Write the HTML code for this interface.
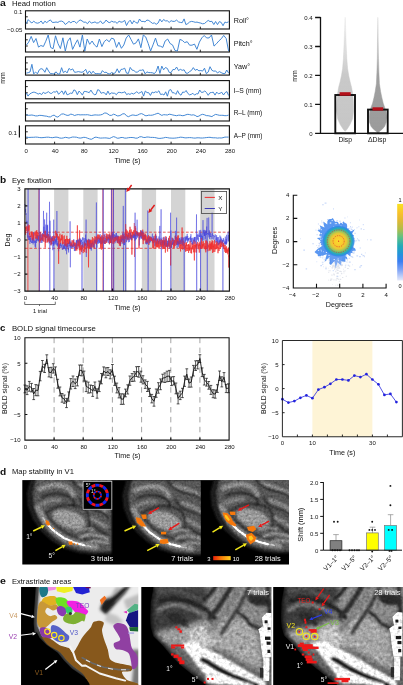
<!DOCTYPE html>
<html lang="en"><head><meta charset="utf-8"><title>Figure</title>
<style>
html,body{margin:0;padding:0;background:#fff;}
body{width:403px;height:685px;overflow:hidden;font-family:'Liberation Sans', sans-serif;}
svg{display:block;position:absolute;left:0;top:0;}
svg text{font-family:"Liberation Sans",sans-serif;}
</style></head><body>
<svg width="403" height="685" viewBox="0 0 403 685">
<rect width="403" height="685" fill="#fff"/>
<g id="panel_a">
<text x="0" y="6.3" font-size="9.4" font-weight="bold" textLength="5.8" lengthAdjust="spacingAndGlyphs" fill="#111">a</text>
<text x="11.9" y="5.9" font-size="7.7" textLength="44" lengthAdjust="spacingAndGlyphs" fill="#111">Head motion</text>
<rect x="25.5" y="10.8" width="203.9" height="18.2" fill="#fff" stroke="#111" stroke-width="1.1"/>
<path d="M54.6 29.0 v-2.3M83.8 29.0 v-2.3M112.9 29.0 v-2.3M142.0 29.0 v-2.3M171.1 29.0 v-2.3M200.3 29.0 v-2.3M25.5 16.8 h2.3M25.5 23.0 h2.3" stroke="#111" stroke-width="0.9" fill="none"/>
<polyline points="26.3,23.6 28.2,19.6 30.0,21.6 31.9,23.0 33.7,21.2 35.6,22.7 37.4,23.2 39.3,22.7 41.1,21.0 43.0,23.8 44.9,21.2 46.7,22.6 48.6,21.1 50.4,19.9 52.3,22.4 54.1,22.4 56.0,22.0 57.9,22.4 59.7,21.3 61.6,21.1 63.4,21.9 65.3,24.5 67.1,23.1 69.0,21.4 70.8,22.8 72.7,21.5 74.6,21.5 76.4,23.2 78.3,21.4 80.1,19.9 82.0,20.9 83.8,22.2 85.7,22.2 87.5,23.7 89.4,21.2 91.3,23.0 93.1,22.6 95.0,21.9 96.8,23.1 98.7,22.7 100.5,21.0 102.4,23.5 104.3,22.7 106.1,20.0 108.0,22.1 109.8,22.6 111.7,21.2 113.5,22.0 115.4,21.9 117.2,23.4 119.1,21.1 121.0,22.2 122.8,21.8 124.7,20.4 126.5,25.5 128.4,22.0 130.2,20.2 132.1,23.9 133.9,20.7 135.8,22.6 137.7,23.2 139.5,19.0 141.4,21.5 143.2,21.4 145.1,21.9 146.9,20.0 148.8,20.5 150.6,21.9 152.5,23.4 154.4,22.9 156.2,24.3 158.1,23.0 159.9,19.2 161.8,21.9 163.6,19.5 165.5,20.9 167.4,20.8 169.2,22.4 171.1,20.7 172.9,21.4 174.8,21.3 176.6,20.1 178.5,21.9 180.3,22.4 182.2,22.7 184.1,18.9 185.9,24.6 187.8,23.6 189.6,22.0 191.5,21.4 193.3,21.7 195.2,22.3 197.0,22.1 198.9,22.7 200.8,23.1 202.6,23.8 204.5,23.5 206.3,21.9 208.2,20.4 210.0,21.6 211.9,21.3 213.8,24.5 215.6,21.5 217.5,24.6 219.3,21.6 221.2,22.4 223.0,25.7 224.9,22.1 226.7,22.6 228.6,21.8" fill="none" stroke="#3a82d2" stroke-width="0.95" stroke-linejoin="round"/>
<text x="233.7" y="23.299999999999997" font-size="7.2" fill="#111">Roll°</text>
<rect x="25.5" y="33.8" width="203.9" height="18.2" fill="#fff" stroke="#111" stroke-width="1.1"/>
<path d="M54.6 52.0 v-2.3M83.8 52.0 v-2.3M112.9 52.0 v-2.3M142.0 52.0 v-2.3M171.1 52.0 v-2.3M200.3 52.0 v-2.3M25.5 39.8 h2.3M25.5 46.0 h2.3" stroke="#111" stroke-width="0.9" fill="none"/>
<polyline points="26.3,45.2 28.7,42.1 31.2,36.4 33.6,42.6 36.0,38.5 38.5,47.1 40.9,45.5 43.4,46.5 45.8,41.2 48.2,35.0 50.7,47.5 53.1,48.7 55.5,35.8 58.0,43.6 60.4,48.6 62.9,37.8 65.3,51.0 67.7,41.2 70.2,37.8 72.6,49.4 75.0,44.3 77.5,39.8 79.9,47.1 82.4,35.0 84.8,51.0 87.2,39.0 89.7,44.3 92.1,41.0 94.5,45.0 97.0,47.1 99.4,39.0 101.9,46.6 104.3,41.5 106.7,39.6 109.2,41.8 111.6,38.1 114.0,39.1 116.5,47.4 118.9,42.2 121.4,48.3 123.8,45.0 126.2,38.0 128.7,35.0 131.1,39.6 133.5,44.2 136.0,42.9 138.4,38.9 140.9,47.7 143.3,35.0 145.7,36.9 148.2,43.5 150.6,51.0 153.0,44.9 155.5,38.1 157.9,45.7 160.4,46.2 162.8,47.4 165.2,40.9 167.7,39.1 170.1,43.5 172.5,44.9 175.0,50.5 177.4,51.0 179.9,39.4 182.3,40.4 184.7,42.6 187.2,41.7 189.6,45.2 192.0,45.2 194.5,44.1 196.9,49.3 199.4,42.1 201.8,37.9 204.2,35.5 206.7,38.0 209.1,37.9 211.5,35.0 214.0,46.1 216.4,43.8 218.9,40.9 221.3,38.7 223.7,35.4 226.2,38.5 228.6,51.0" fill="none" stroke="#3a82d2" stroke-width="0.95" stroke-linejoin="round"/>
<text x="233.7" y="46.3" font-size="7.2" fill="#111">Pitch°</text>
<rect x="25.5" y="56.9" width="203.9" height="18.2" fill="#fff" stroke="#111" stroke-width="1.1"/>
<path d="M54.6 75.1 v-2.3M83.8 75.1 v-2.3M112.9 75.1 v-2.3M142.0 75.1 v-2.3M171.1 75.1 v-2.3M200.3 75.1 v-2.3M25.5 62.9 h2.3M25.5 69.1 h2.3" stroke="#111" stroke-width="0.9" fill="none"/>
<polyline points="26.3,73.1 28.2,72.7 30.0,72.0 31.9,64.3 33.7,73.9 35.6,72.0 37.4,73.8 39.3,69.8 41.1,68.6 43.0,69.4 44.9,72.3 46.7,67.7 48.6,71.1 50.4,73.7 52.3,73.6 54.1,74.1 56.0,71.8 57.9,74.1 59.7,74.0 61.6,67.7 63.4,72.7 65.3,71.1 67.1,72.9 69.0,68.4 70.8,70.0 72.7,68.9 74.6,72.3 76.4,72.1 78.3,71.6 80.1,72.0 82.0,72.3 83.8,71.4 85.7,69.3 87.5,73.8 89.4,70.9 91.3,73.7 93.1,71.2 95.0,73.6 96.8,73.7 98.7,73.6 100.5,74.1 102.4,70.6 104.3,72.5 106.1,72.2 108.0,73.7 109.8,73.9 111.7,72.5 113.5,73.6 115.4,72.7 117.2,68.8 119.1,72.8 121.0,69.4 122.8,69.2 124.7,68.2 126.5,73.1 128.4,73.4 130.2,67.4 132.1,70.1 133.9,70.5 135.8,72.2 137.7,72.1 139.5,70.2 141.4,70.3 143.2,69.7 145.1,73.8 146.9,71.9 148.8,72.6 150.6,72.6 152.5,72.8 154.4,73.6 156.2,71.4 158.1,66.0 159.9,73.4 161.8,66.1 163.6,69.8 165.5,67.5 167.4,68.5 169.2,72.4 171.1,72.5 172.9,69.5 174.8,69.6 176.6,67.0 178.5,70.6 180.3,69.3 182.2,70.3 184.1,69.8 185.9,73.1 187.8,73.2 189.6,71.6 191.5,70.4 193.3,67.6 195.2,70.3 197.0,69.3 198.9,70.8 200.8,70.5 202.6,71.1 204.5,68.2 206.3,73.6 208.2,72.1 210.0,66.7 211.9,70.3 213.8,71.2 215.6,70.9 217.5,73.0 219.3,71.6 221.2,72.6 223.0,73.5 224.9,73.7 226.7,70.0 228.6,73.0" fill="none" stroke="#3a82d2" stroke-width="0.95" stroke-linejoin="round"/>
<text x="233.7" y="69.4" font-size="7.2" fill="#111">Yaw°</text>
<rect x="25.5" y="80.6" width="203.9" height="18.2" fill="#fff" stroke="#111" stroke-width="1.1"/>
<path d="M54.6 98.8 v-2.3M83.8 98.8 v-2.3M112.9 98.8 v-2.3M142.0 98.8 v-2.3M171.1 98.8 v-2.3M200.3 98.8 v-2.3M25.5 86.6 h2.3M25.5 92.8 h2.3" stroke="#111" stroke-width="0.9" fill="none"/>
<polyline points="26.3,93.0 28.0,96.1 29.7,94.0 31.4,93.0 33.1,92.2 34.8,92.3 36.5,93.1 38.2,94.1 39.9,93.3 41.6,94.6 43.3,92.2 45.0,93.5 46.7,92.7 48.4,91.7 50.1,93.2 51.8,93.4 53.5,91.7 55.2,92.2 56.9,90.9 58.6,94.3 60.3,92.4 62.0,90.9 63.7,94.4 65.4,90.8 67.1,94.8 68.8,94.2 70.5,93.1 72.2,93.4 73.9,89.9 75.6,90.7 77.3,94.7 79.0,91.1 80.7,92.7 82.4,95.1 84.1,91.4 85.8,91.5 87.5,92.0 89.2,92.7 90.9,90.1 92.6,92.9 94.3,94.8 96.0,94.4 97.7,89.7 99.4,90.3 101.1,93.3 102.8,92.6 104.5,92.8 106.2,94.9 107.9,91.1 109.6,94.4 111.3,92.9 113.0,93.2 114.7,93.3 116.4,94.7 118.1,92.4 119.8,92.4 121.5,92.8 123.2,92.5 124.9,91.8 126.6,94.6 128.3,93.7 130.0,94.4 131.7,93.2 133.4,94.0 135.1,93.0 136.8,91.7 138.5,93.3 140.2,92.6 141.9,91.5 143.6,96.1 145.3,91.0 147.0,92.6 148.7,92.7 150.4,95.4 152.1,92.1 153.8,92.8 155.5,91.8 157.2,92.4 158.9,90.8 160.6,94.5 162.3,94.1 164.0,95.0 165.7,91.8 167.4,96.2 169.1,90.3 170.8,89.6 172.5,92.9 174.2,92.7 175.9,94.4 177.6,90.7 179.3,94.0 181.0,95.2 182.7,92.0 184.4,92.4 186.1,90.5 187.8,93.4 189.5,94.8 191.2,94.4 192.9,93.3 194.6,95.1 196.3,93.8 198.0,93.9 199.7,90.0 201.4,92.4 203.1,92.2 204.8,90.9 206.5,92.6 208.2,95.3 209.9,92.8 211.6,92.5 213.3,92.2 215.0,95.1 216.7,92.1 218.4,93.8 220.1,93.2 221.8,92.3 223.5,95.0 225.2,92.6 226.9,91.6 228.6,95.5" fill="none" stroke="#3a82d2" stroke-width="0.95" stroke-linejoin="round"/>
<text x="233.7" y="93.1" font-size="7.2" textLength="27.8" lengthAdjust="spacingAndGlyphs" fill="#111">I–S (mm)</text>
<rect x="25.5" y="102.8" width="203.9" height="18.2" fill="#fff" stroke="#111" stroke-width="1.1"/>
<path d="M54.6 121.0 v-2.3M83.8 121.0 v-2.3M112.9 121.0 v-2.3M142.0 121.0 v-2.3M171.1 121.0 v-2.3M200.3 121.0 v-2.3M25.5 108.8 h2.3M25.5 115.0 h2.3" stroke="#111" stroke-width="0.9" fill="none"/>
<polyline points="26.3,114.7 28.2,115.3 30.0,115.2 31.9,115.0 33.7,115.4 35.6,115.9 37.4,115.9 39.3,115.4 41.1,115.4 43.0,115.7 44.9,116.0 46.7,116.2 48.6,116.8 50.4,116.9 52.3,115.7 54.1,115.1 56.0,116.6 57.9,117.1 59.7,115.5 61.6,114.1 63.4,113.9 65.3,114.7 67.1,115.4 69.0,115.2 70.8,114.1 72.7,114.6 74.6,115.5 76.4,114.9 78.3,114.6 80.1,114.9 82.0,114.8 83.8,114.8 85.7,114.8 87.5,114.7 89.4,115.1 91.3,115.5 93.1,115.2 95.0,114.9 96.8,115.0 98.7,115.1 100.5,114.9 102.4,114.4 104.3,113.1 106.1,113.0 108.0,114.1 109.8,115.4 111.7,115.3 113.5,114.2 115.4,114.8 117.2,115.9 119.1,115.8 121.0,115.0 122.8,113.8 124.7,113.8 126.5,115.8 128.4,116.7 130.2,115.8 132.1,115.0 133.9,115.1 135.8,115.5 137.7,115.1 139.5,114.1 141.4,113.6 143.2,114.3 145.1,115.6 146.9,115.7 148.8,115.1 150.6,115.3 152.5,115.1 154.4,114.5 156.2,113.8 158.1,113.2 159.9,114.3 161.8,115.4 163.6,114.7 165.5,114.8 167.4,115.0 169.2,114.2 171.1,114.5 172.9,115.0 174.8,115.4 176.6,115.7 178.5,115.2 180.3,115.2 182.2,115.7 184.1,115.5 185.9,114.8 187.8,114.3 189.6,114.6 191.5,115.1 193.3,114.8 195.2,115.4 197.0,116.6 198.9,116.1 200.8,114.9 202.6,114.3 204.5,114.8 206.3,115.6 208.2,115.7 210.0,116.1 211.9,116.6 213.8,115.3 215.6,114.4 217.5,114.8 219.3,115.3 221.2,115.3 223.0,115.3 224.9,115.7 226.7,115.6 228.6,115.1" fill="none" stroke="#3a82d2" stroke-width="0.95" stroke-linejoin="round"/>
<text x="233.7" y="115.3" font-size="7.2" textLength="28.6" lengthAdjust="spacingAndGlyphs" fill="#111">R–L (mm)</text>
<rect x="25.5" y="125.8" width="203.9" height="18.2" fill="#fff" stroke="#111" stroke-width="1.1"/>
<path d="M54.6 144.0 v-2.3M83.8 144.0 v-2.3M112.9 144.0 v-2.3M142.0 144.0 v-2.3M171.1 144.0 v-2.3M200.3 144.0 v-2.3M25.5 131.8 h2.3M25.5 138.0 h2.3" stroke="#111" stroke-width="0.9" fill="none"/>
<polyline points="26.3,136.9 28.2,137.4 30.0,137.4 31.9,137.3 33.7,137.3 35.6,137.1 37.4,137.2 39.3,137.5 41.1,137.7 43.0,137.6 44.9,137.4 46.7,137.2 48.6,137.2 50.4,137.5 52.3,137.7 54.1,137.4 56.0,137.1 57.9,137.4 59.7,138.0 61.6,138.2 63.4,137.9 65.3,137.3 67.1,137.6 69.0,138.1 70.8,137.5 72.7,137.0 74.6,137.1 76.4,137.2 78.3,137.8 80.1,138.1 82.0,137.8 83.8,137.3 85.7,137.5 87.5,138.2 89.4,138.9 91.3,139.3 93.1,138.4 95.0,137.2 96.8,137.3 98.7,137.8 100.5,138.1 102.4,138.0 104.3,137.9 106.1,137.9 108.0,138.2 109.8,138.4 111.7,137.4 113.5,136.6 115.4,137.2 117.2,138.2 119.1,138.1 121.0,137.5 122.8,137.5 124.7,138.1 126.5,138.1 128.4,137.7 130.2,137.5 132.1,137.5 133.9,137.7 135.8,138.2 137.7,138.0 139.5,136.9 141.4,136.7 143.2,137.4 145.1,137.5 146.9,137.0 148.8,137.1 150.6,137.4 152.5,137.4 154.4,137.5 156.2,137.8 158.1,138.3 159.9,138.4 161.8,138.2 163.6,137.9 165.5,137.4 167.4,137.6 169.2,138.0 171.1,138.1 172.9,138.2 174.8,138.1 176.6,137.9 178.5,137.6 180.3,137.2 182.2,137.3 184.1,137.7 185.9,137.9 187.8,137.7 189.6,137.6 191.5,137.7 193.3,138.0 195.2,138.1 197.0,137.8 198.9,137.8 200.8,138.0 202.6,138.0 204.5,137.8 206.3,137.6 208.2,137.4 210.0,137.3 211.9,137.7 213.8,137.8 215.6,137.8 217.5,138.1 219.3,137.9 221.2,138.0 223.0,137.7 224.9,137.1 226.7,137.1 228.6,137.1" fill="none" stroke="#3a82d2" stroke-width="0.95" stroke-linejoin="round"/>
<text x="233.7" y="138.3" font-size="7.2" textLength="28.8" lengthAdjust="spacingAndGlyphs" fill="#111">A–P (mm)</text>
<text x="22.3" y="14.2" font-size="6.05" text-anchor="end" fill="#111">0.1</text>
<text x="22.3" y="32.0" font-size="6.05" text-anchor="end" fill="#111">−0.05</text>
<text x="0" y="0" font-size="7" text-anchor="middle" transform="translate(5.0 77.9) rotate(-90)" fill="#111">mm</text>
<path d="M19.4 125.6V137.6" stroke="#111" stroke-width="1.2"/>
<text x="16.8" y="134.6" font-size="6.05" text-anchor="end" fill="#111">0.1</text>
<text x="26.1" y="152.6" font-size="6.05" text-anchor="middle" fill="#111">0</text>
<text x="55.228571428571435" y="152.6" font-size="6.05" text-anchor="middle" fill="#111">40</text>
<text x="84.35714285714286" y="152.6" font-size="6.05" text-anchor="middle" fill="#111">80</text>
<text x="113.48571428571428" y="152.6" font-size="6.05" text-anchor="middle" fill="#111">120</text>
<text x="142.61428571428573" y="152.6" font-size="6.05" text-anchor="middle" fill="#111">160</text>
<text x="171.74285714285713" y="152.6" font-size="6.05" text-anchor="middle" fill="#111">200</text>
<text x="200.87142857142857" y="152.6" font-size="6.05" text-anchor="middle" fill="#111">240</text>
<text x="230.0" y="152.6" font-size="6.05" text-anchor="middle" fill="#111">280</text>
<text x="127.5" y="162.6" font-size="7.2" text-anchor="middle" textLength="26" lengthAdjust="spacingAndGlyphs" fill="#111">Time (s)</text>
</g>
<g id="panel_a2">
<filter id="blur03" x="-20%" y="-5%" width="140%" height="110%"><feGaussianBlur stdDeviation="0.35"/></filter>
<linearGradient id="gv1" x1="0" y1="17.5" x2="0" y2="133.3" gradientUnits="userSpaceOnUse"><stop offset="0" stop-color="#c6c6c6" stop-opacity="0.25"/><stop offset="0.3" stop-color="#c6c6c6" stop-opacity="0.6"/><stop offset="0.5" stop-color="#c6c6c6" stop-opacity="0.95"/><stop offset="1" stop-color="#c6c6c6" stop-opacity="1"/></linearGradient><path d="M344.9 17.5 L344.6 29.7 L344.0 45.0 L343.4 58.6 L342.6 68.5 L341.4 76.0 L340.1 81.8 L338.6 87.6 L337.6 93.6 L336.9 101.5 L336.6 111.0 L337.6 118.8 L340.2 124.6 L343.2 129.2 L345.0 131.3 L345.2 131.3 L347.1 129.2 L350.0 124.6 L352.6 118.8 L353.6 111.0 L353.4 101.5 L352.6 93.6 L351.6 87.6 L350.1 81.8 L348.8 76.0 L347.6 68.5 L346.8 58.6 L346.2 45.0 L345.7 29.7 L345.4 17.5Z" fill="url(#gv1)" stroke="url(#gv1)" stroke-width="0.5" filter="url(#blur03)"/>
<linearGradient id="gv2" x1="0" y1="17.5" x2="0" y2="133.3" gradientUnits="userSpaceOnUse"><stop offset="0" stop-color="#9b9b9b" stop-opacity="0.25"/><stop offset="0.3" stop-color="#9b9b9b" stop-opacity="0.6"/><stop offset="0.5" stop-color="#9b9b9b" stop-opacity="0.95"/><stop offset="1" stop-color="#9b9b9b" stop-opacity="1"/></linearGradient><path d="M377.8 17.5 L377.5 39.2 L377.3 58.6 L376.9 72.5 L376.4 83.8 L375.2 91.6 L374.0 97.4 L372.6 103.2 L371.1 107.2 L369.8 111.0 L369.2 116.8 L369.6 122.6 L371.1 126.4 L373.5 129.2 L376.9 131.9 L377.8 132.7 L378.0 132.7 L378.9 131.9 L382.2 129.2 L384.6 126.4 L386.1 122.6 L386.6 116.8 L386.0 111.0 L384.6 107.2 L383.2 103.2 L381.8 97.4 L380.6 91.6 L379.4 83.8 L378.9 72.5 L378.5 58.6 L378.2 39.2 L378.0 17.5Z" fill="url(#gv2)" stroke="url(#gv2)" stroke-width="0.5" filter="url(#blur03)"/>
<rect x="335.3" y="95" width="19.7" height="38.3" fill="none" stroke="#111" stroke-width="1.9"/>
<rect x="368" y="109.6" width="19.7" height="23.7" fill="none" stroke="#111" stroke-width="1.9"/>
<rect x="339.6" y="92.2" width="11.1" height="3.5" fill="#b4101a"/>
<rect x="372.5" y="107.3" width="10.7" height="3.3" fill="#b4101a"/>
<path d="M320.5 17.0V133.3H403M320.5 133.3h-5.4M320.5 104.4h-5.4M320.5 75.4h-5.4M320.5 46.5h-5.4M320.5 17.5h-5.4" stroke="#111" stroke-width="1.3" fill="none"/>
<text x="312.6" y="135.60000000000002" font-size="6.05" text-anchor="end" fill="#111">0</text>
<text x="312.6" y="106.65" font-size="6.05" text-anchor="end" fill="#111">0.1</text>
<text x="312.6" y="77.7" font-size="6.05" text-anchor="end" fill="#111">0.2</text>
<text x="312.6" y="48.75" font-size="6.05" text-anchor="end" fill="#111">0.3</text>
<text x="312.6" y="19.8" font-size="6.05" text-anchor="end" fill="#111">0.4</text>
<text x="345.2" y="142.0" font-size="6.8" text-anchor="middle" fill="#111">Disp</text>
<text x="377.2" y="142.0" font-size="6.8" text-anchor="middle" textLength="18.4" lengthAdjust="spacingAndGlyphs" fill="#111">ΔDisp</text>
<text x="0" y="0" font-size="7" text-anchor="middle" transform="translate(297 76) rotate(-90)" fill="#111">mm</text>
</g>
<g id="panel_b">
<text x="0" y="183.2" font-size="9.4" font-weight="bold" textLength="6.2" lengthAdjust="spacingAndGlyphs" fill="#111">b</text>
<text x="11.9" y="182.9" font-size="7.7" textLength="39.5" lengthAdjust="spacingAndGlyphs" fill="#111">Eye fixation</text>
<rect x="24.9" y="188.9" width="204.5" height="102.2" fill="#fff"/>
<rect x="24.9" y="188.9" width="14.3" height="102.2" fill="#d4d4d4"/>
<rect x="54.1" y="188.9" width="14.3" height="102.2" fill="#d4d4d4"/>
<rect x="83.3" y="188.9" width="14.3" height="102.2" fill="#d4d4d4"/>
<rect x="112.5" y="188.9" width="14.3" height="102.2" fill="#d4d4d4"/>
<rect x="141.8" y="188.9" width="14.3" height="102.2" fill="#d4d4d4"/>
<rect x="171.0" y="188.9" width="14.3" height="102.2" fill="#d4d4d4"/>
<rect x="200.2" y="188.9" width="14.3" height="102.2" fill="#d4d4d4"/>
<path d="M24.9 232.2H229.4M24.9 248.3H229.4" stroke="#e03030" stroke-width="0.8" stroke-dasharray="2.8 1.8" fill="none"/>
<polyline points="24.9,221.6 25.1,227.7 25.3,228.4 25.5,234.8 25.6,227.3 25.8,228.3 26.0,229.0 26.2,226.7 26.4,226.5 26.6,231.0 26.8,230.6 26.9,229.5 27.1,226.3 27.3,226.8 27.5,232.3 27.7,231.9 27.9,291.1 28.1,224.4 28.2,226.4 28.4,231.2 28.6,226.1 28.8,230.3 29.0,227.5 29.2,225.2 29.4,233.1 29.6,234.9 29.7,233.1 29.9,237.2 30.1,236.0 30.3,237.2 30.5,236.1 30.7,236.9 30.9,236.1 31.0,236.7 31.2,232.6 31.4,235.4 31.6,234.8 31.8,231.6 32.0,240.1 32.2,231.9 32.3,236.4 32.5,239.3 32.7,236.2 32.9,235.5 33.1,232.7 33.3,238.9 33.5,235.2 33.6,235.5 33.8,240.7 34.0,239.3 34.2,234.1 34.4,233.9 34.6,232.8 34.8,234.4 34.9,234.8 35.1,235.6 35.3,232.5 35.5,238.5 35.7,236.5 35.9,235.0 36.1,230.9 36.3,232.4 36.4,238.5 36.6,236.5 36.8,230.1 37.0,238.8 37.2,238.0 37.4,232.0 37.6,239.7 37.7,237.8 37.9,235.1 38.1,235.4 38.3,235.0 38.5,235.7 38.7,232.9 38.9,233.9 39.0,188.9 39.2,291.1 39.4,239.1 39.6,242.6 39.8,235.2 40.0,242.6 40.2,234.8 40.3,232.1 40.5,240.6 40.7,239.6 40.9,238.9 41.1,240.5 41.3,240.0 41.5,237.8 41.6,239.0 41.8,238.1 42.0,233.6 42.2,240.1 42.4,237.1 42.6,236.5 42.8,234.8 42.9,240.9 43.1,234.0 43.3,235.9 43.5,234.6 43.7,236.9 43.9,241.8 44.1,238.9 44.3,234.7 44.4,236.9 44.6,237.1 44.8,231.8 45.0,230.5 45.2,247.6 45.4,231.3 45.6,242.6 45.7,242.7 45.9,234.3 46.1,237.8 46.3,235.6 46.5,236.0 46.7,238.0 46.9,235.9 47.0,237.6 47.2,242.6 47.4,237.7 47.6,237.1 47.8,233.3 48.0,242.0 48.2,238.8 48.3,240.2 48.5,239.5 48.7,234.4 48.9,238.3 49.1,240.8 49.3,239.2 49.5,237.5 49.6,242.8 49.8,240.8 50.0,235.7 50.2,237.8 50.4,240.5 50.6,241.9 50.8,241.1 51.0,245.3 51.1,238.2 51.3,239.7 51.5,240.1 51.7,244.0 51.9,242.1 52.1,238.3 52.3,238.9 52.4,240.8 52.6,237.7 52.8,236.2 53.0,240.7 53.2,240.1 53.4,240.8 53.6,241.4 53.7,235.6 53.9,236.2 54.1,236.4 54.3,240.7 54.5,237.0 54.7,237.1 54.9,237.9 55.0,236.2 55.2,238.4 55.4,234.3 55.6,230.8 55.8,231.4 56.0,231.0 56.2,235.3 56.3,232.7 56.5,236.6 56.7,232.9 56.9,236.8 57.1,237.3 57.3,237.9 57.5,234.2 57.6,235.5 57.8,235.9 58.0,239.9 58.2,236.3 58.4,241.1 58.6,263.8 58.8,237.6 59.0,236.8 59.1,249.0 59.3,242.2 59.5,241.7 59.7,238.0 59.9,233.7 60.1,241.4 60.3,240.4 60.4,238.6 60.6,243.5 60.8,243.7 61.0,240.1 61.2,239.2 61.4,240.3 61.6,234.9 61.7,239.9 61.9,238.4 62.1,234.9 62.3,234.6 62.5,244.2 62.7,240.7 62.9,236.3 63.0,243.7 63.2,242.4 63.4,243.5 63.6,243.7 63.8,243.1 64.0,239.3 64.2,236.2 64.3,235.5 64.5,239.9 64.7,245.7 64.9,240.2 65.1,241.1 65.3,239.1 65.5,240.5 65.7,245.4 65.8,239.0 66.0,246.2 66.2,242.3 66.4,239.4 66.6,239.3 66.8,235.8 67.0,247.3 67.1,239.6 67.3,238.7 67.5,241.7 67.7,239.1 67.9,244.2 68.1,239.2 68.3,239.7 68.4,244.2 68.6,243.4 68.8,242.2 69.0,243.7 69.2,239.0 69.4,241.7 69.6,238.5 69.7,239.1 69.9,242.5 70.1,243.4 70.3,245.8 70.5,245.6 70.7,245.7 70.9,242.6 71.0,246.3 71.2,243.7 71.4,243.6 71.6,245.8 71.8,245.0 72.0,240.5 72.2,240.2 72.3,247.2 72.5,245.5 72.7,246.1 72.9,245.9 73.1,240.7 73.3,243.2 73.5,241.7 73.7,240.2 73.8,246.7 74.0,246.1 74.2,245.5 74.4,242.7 74.6,246.0 74.8,243.9 75.0,242.5 75.1,242.6 75.3,244.7 75.5,248.3 75.7,250.6 75.9,243.0 76.1,244.9 76.3,248.8 76.4,247.4 76.6,247.1 76.8,250.5 77.0,244.8 77.2,247.6 77.4,225.4 77.6,243.2 77.7,245.7 77.9,244.0 78.1,244.4 78.3,245.7 78.5,245.7 78.7,240.6 78.9,246.6 79.0,241.5 79.2,248.9 79.4,250.2 79.6,230.3 79.8,248.7 80.0,254.4 80.2,242.2 80.4,250.3 80.5,249.8 80.7,246.8 80.9,247.1 81.1,246.5 81.3,248.2 81.5,251.9 81.7,245.1 81.8,250.4 82.0,247.2 82.2,246.3 82.4,244.7 82.6,248.8 82.8,248.9 83.0,248.6 83.1,253.1 83.3,249.8 83.5,250.4 83.7,250.7 83.9,246.7 84.1,248.0 84.3,242.3 84.4,242.5 84.6,252.1 84.8,246.2 85.0,249.3 85.2,244.7 85.4,245.7 85.6,243.4 85.7,245.0 85.9,243.6 86.1,246.5 86.3,252.8 86.5,248.8 86.7,247.8 86.9,246.6 87.1,248.0 87.2,240.2 87.4,245.3 87.6,240.9 87.8,245.5 88.0,239.7 88.2,247.9 88.4,242.6 88.5,267.3 88.7,243.0 88.9,239.7 89.1,249.0 89.3,246.7 89.5,243.4 89.7,244.6 89.8,248.0 90.0,240.7 90.2,243.8 90.4,240.2 90.6,243.0 90.8,247.2 91.0,245.1 91.1,239.7 91.3,247.6 91.5,244.8 91.7,241.7 91.9,240.4 92.1,240.8 92.3,247.4 92.4,237.0 92.6,243.5 92.8,242.9 93.0,242.8 93.2,243.4 93.4,245.3 93.6,243.3 93.7,238.4 93.9,246.0 94.1,248.9 94.3,240.2 94.5,240.6 94.7,239.3 94.9,236.2 95.1,243.2 95.2,240.4 95.4,239.3 95.6,237.0 95.8,237.5 96.0,242.7 96.2,244.1 96.4,240.8 96.5,244.5 96.7,236.4 96.9,240.6 97.1,240.4 97.3,241.7 97.5,234.6 97.7,238.0 97.8,239.9 98.0,236.8 98.2,238.6 98.4,236.6 98.6,234.5 98.8,239.1 99.0,236.9 99.1,237.0 99.3,235.1 99.5,236.7 99.7,238.3 99.9,240.3 100.1,237.6 100.3,241.5 100.4,236.6 100.6,247.8 100.8,237.0 101.0,240.1 101.2,240.9 101.4,249.6 101.6,235.4 101.8,239.3 101.9,239.4 102.1,243.9 102.3,238.9 102.5,248.8 102.7,234.8 102.9,188.9 103.1,291.1 103.2,243.0 103.4,242.0 103.6,237.1 103.8,239.3 104.0,237.3 104.2,234.8 104.4,236.4 104.5,243.7 104.7,240.9 104.9,241.2 105.1,240.4 105.3,243.7 105.5,243.6 105.7,239.8 105.8,239.4 106.0,236.2 106.2,238.6 106.4,233.6 106.6,243.0 106.8,241.7 107.0,237.0 107.1,238.5 107.3,240.5 107.5,235.4 107.7,234.5 107.9,233.9 108.1,238.8 108.3,237.7 108.4,237.0 108.6,237.5 108.8,234.7 109.0,239.2 109.2,236.8 109.4,244.3 109.6,235.8 109.8,233.3 109.9,238.2 110.1,235.2 110.3,243.1 110.5,239.3 110.7,242.9 110.9,237.6 111.1,237.1 111.2,242.7 111.4,188.9 111.6,291.1 111.8,231.9 112.0,239.2 112.2,238.7 112.4,238.1 112.5,238.4 112.7,243.6 112.9,243.2 113.1,188.9 113.3,291.1 113.5,238.9 113.7,240.8 113.8,243.7 114.0,240.0 114.2,239.8 114.4,241.7 114.6,237.3 114.8,241.5 115.0,240.3 115.1,237.4 115.3,239.2 115.5,236.6 115.7,240.5 115.9,241.1 116.1,238.5 116.3,239.2 116.5,236.4 116.6,238.7 116.8,239.9 117.0,238.5 117.2,237.9 117.4,243.1 117.6,240.2 117.8,240.8 117.9,236.3 118.1,241.2 118.3,236.7 118.5,243.5 118.7,240.0 118.9,236.7 119.1,240.6 119.2,236.5 119.4,245.7 119.6,242.3 119.8,239.4 120.0,240.1 120.2,244.0 120.4,237.6 120.5,246.1 120.7,236.5 120.9,238.2 121.1,235.0 121.3,239.6 121.5,241.9 121.7,240.0 121.8,239.8 122.0,236.5 122.2,239.0 122.4,236.8 122.6,236.5 122.8,233.6 123.0,243.4 123.1,238.6 123.3,235.3 123.5,235.2 123.7,238.7 123.9,237.7 124.1,237.0 124.3,236.3 124.5,238.1 124.6,242.7 124.8,239.6 125.0,237.5 125.2,232.3 125.4,239.1 125.6,224.1 125.8,230.6 125.9,235.6 126.1,229.4 126.3,236.6 126.5,234.0 126.7,236.2 126.9,239.6 127.1,240.3 127.2,230.6 127.4,237.8 127.6,234.8 127.8,239.1 128.0,238.8 128.2,235.0 128.4,236.9 128.5,234.8 128.7,232.8 128.9,240.0 129.1,238.6 129.3,236.5 129.5,230.0 129.7,237.7 129.8,238.1 130.0,226.8 130.2,230.4 130.4,238.0 130.6,237.1 130.8,235.9 131.0,233.7 131.2,229.5 131.3,239.3 131.5,240.3 131.7,234.9 131.9,254.6 132.1,241.6 132.3,236.7 132.5,232.1 132.6,236.2 132.8,233.2 133.0,233.9 133.2,232.4 133.4,232.9 133.6,233.3 133.8,230.3 133.9,235.4 134.1,233.3 134.3,223.0 134.5,257.0 134.7,234.4 134.9,235.4 135.1,235.9 135.2,226.0 135.4,231.9 135.6,227.9 135.8,231.3 136.0,233.2 136.2,234.3 136.4,232.8 136.5,233.7 136.7,231.0 136.9,236.2 137.1,233.3 137.3,232.5 137.5,234.6 137.7,234.6 137.8,232.4 138.0,232.4 138.2,234.4 138.4,234.2 138.6,235.8 138.8,232.7 139.0,248.5 139.2,238.9 139.3,235.4 139.5,232.7 139.7,233.8 139.9,237.2 140.1,232.6 140.3,233.0 140.5,233.1 140.6,230.5 140.8,235.9 141.0,233.3 141.2,235.9 141.4,232.3 141.6,231.9 141.8,233.9 141.9,233.3 142.1,237.9 142.3,233.9 142.5,239.3 142.7,229.7 142.9,232.8 143.1,240.7 143.2,244.1 143.4,232.8 143.6,239.2 143.8,235.2 144.0,240.7 144.2,236.9 144.4,239.1 144.5,235.6 144.7,238.5 144.9,233.3 145.1,239.9 145.3,234.2 145.5,238.1 145.7,236.6 145.9,242.8 146.0,243.4 146.2,235.4 146.4,242.0 146.6,239.6 146.8,239.6 147.0,241.4 147.2,238.3 147.3,243.0 147.5,242.5 147.7,236.5 147.9,241.5 148.1,237.2 148.3,239.4 148.5,235.1 148.6,238.3 148.8,245.0 149.0,241.6 149.2,241.0 149.4,236.3 149.6,238.9 149.8,241.3 149.9,238.6 150.1,241.0 150.3,238.4 150.5,239.5 150.7,236.8 150.9,239.1 151.1,237.3 151.2,240.4 151.4,238.4 151.6,241.0 151.8,238.8 152.0,240.2 152.2,241.3 152.4,242.3 152.5,242.0 152.7,239.9 152.9,248.1 153.1,237.9 153.3,248.5 153.5,242.3 153.7,242.9 153.9,239.9 154.0,241.5 154.2,242.4 154.4,242.1 154.6,239.8 154.8,235.8 155.0,241.6 155.2,248.8 155.3,244.2 155.5,241.9 155.7,233.6 155.9,245.6 156.1,244.5 156.3,241.8 156.5,242.5 156.6,247.3 156.8,240.7 157.0,247.2 157.2,244.2 157.4,239.6 157.6,247.2 157.8,244.4 157.9,238.5 158.1,244.1 158.3,246.4 158.5,245.1 158.7,240.9 158.9,247.9 159.1,245.2 159.2,247.6 159.4,246.7 159.6,239.6 159.8,243.6 160.0,244.6 160.2,242.1 160.4,245.4 160.6,246.8 160.7,240.0 160.9,240.8 161.1,245.8 161.3,241.3 161.5,239.1 161.7,242.0 161.9,242.0 162.0,247.2 162.2,244.0 162.4,249.1 162.6,240.5 162.8,244.3 163.0,240.0 163.2,246.2 163.3,241.4 163.5,248.7 163.7,237.3 163.9,242.5 164.1,243.0 164.3,244.3 164.5,248.9 164.6,240.2 164.8,242.1 165.0,240.7 165.2,240.8 165.4,252.6 165.6,242.9 165.8,236.3 165.9,246.5 166.1,242.9 166.3,245.7 166.5,238.9 166.7,243.4 166.9,246.9 167.1,245.6 167.2,247.8 167.4,250.3 167.6,251.5 167.8,245.6 168.0,246.7 168.2,242.9 168.4,245.7 168.6,242.5 168.7,237.9 168.9,246.5 169.1,246.5 169.3,240.0 169.5,235.9 169.7,245.3 169.9,247.6 170.0,243.4 170.2,243.7 170.4,240.4 170.6,265.4 170.8,243.1 171.0,243.1 171.2,246.8 171.3,246.8 171.5,240.9 171.7,240.7 171.9,244.6 172.1,237.7 172.3,239.5 172.5,240.9 172.6,240.5 172.8,241.3 173.0,240.2 173.2,239.8 173.4,242.1 173.6,248.3 173.8,242.8 173.9,244.8 174.1,245.8 174.3,240.6 174.5,247.6 174.7,239.9 174.9,244.2 175.1,246.0 175.3,244.9 175.4,235.5 175.6,238.0 175.8,243.2 176.0,239.2 176.2,237.1 176.4,245.0 176.6,243.2 176.7,239.7 176.9,241.2 177.1,243.6 177.3,237.8 177.5,241.2 177.7,240.5 177.9,235.8 178.0,241.5 178.2,235.3 178.4,242.3 178.6,243.8 178.8,243.0 179.0,240.9 179.2,241.7 179.3,242.6 179.5,248.2 179.7,247.1 179.9,244.8 180.1,242.0 180.3,240.0 180.5,251.4 180.6,244.9 180.8,245.9 181.0,245.0 181.2,244.1 181.4,247.4 181.6,248.9 181.8,242.1 182.0,242.9 182.1,227.5 182.3,245.7 182.5,247.4 182.7,249.6 182.9,243.5 183.1,247.4 183.3,248.8 183.4,247.3 183.6,240.7 183.8,244.3 184.0,244.9 184.2,245.4 184.4,243.1 184.6,243.5 184.7,249.6 184.9,246.5 185.1,247.7 185.3,245.2 185.5,246.0 185.7,251.8 185.9,242.5 186.0,245.1 186.2,251.0 186.4,242.5 186.6,245.6 186.8,244.5 187.0,245.9 187.2,245.5 187.3,247.5 187.5,250.9 187.7,247.9 187.9,245.5 188.1,246.0 188.3,244.2 188.5,246.5 188.6,252.9 188.8,244.1 189.0,248.7 189.2,250.3 189.4,247.4 189.6,250.5 189.8,245.4 190.0,249.3 190.1,240.8 190.3,247.4 190.5,248.3 190.7,248.6 190.9,253.1 191.1,249.3 191.3,249.0 191.4,247.8 191.6,253.4 191.8,246.8 192.0,243.2 192.2,248.2 192.4,247.2 192.6,245.8 192.7,249.4 192.9,248.4 193.1,244.3 193.3,246.5 193.5,250.6 193.7,252.3 193.9,240.2 194.0,245.6 194.2,251.6 194.4,260.4 194.6,244.9 194.8,246.5 195.0,252.4 195.2,241.5 195.3,245.0 195.5,247.4 195.7,244.8 195.9,247.4 196.1,247.7 196.3,244.1 196.5,252.5 196.7,243.7 196.8,245.5 197.0,244.4 197.2,243.9 197.4,242.0 197.6,242.3 197.8,243.9 198.0,247.7 198.1,244.4 198.3,247.9 198.5,249.2 198.7,245.0 198.9,245.3 199.1,242.8 199.3,252.6 199.4,244.5 199.6,244.2 199.8,245.8 200.0,241.7 200.2,248.7 200.4,245.1 200.6,247.2 200.7,246.1 200.9,249.0 201.1,246.5 201.3,244.2 201.5,238.0 201.7,245.1 201.9,248.4 202.0,241.5 202.2,248.2 202.4,246.1 202.6,244.5 202.8,246.8 203.0,244.0 203.2,245.7 203.3,241.2 203.5,244.6 203.7,245.1 203.9,248.6 204.1,244.8 204.3,243.2 204.5,245.0 204.7,248.9 204.8,247.8 205.0,246.8 205.2,246.1 205.4,250.2 205.6,240.6 205.8,252.3 206.0,245.8 206.1,247.4 206.3,246.2 206.5,240.5 206.7,248.9 206.9,247.6 207.1,249.1 207.3,247.7 207.4,241.6 207.6,247.9 207.8,247.3 208.0,251.2 208.2,246.9 208.4,245.2 208.6,247.3 208.7,247.0 208.9,243.6 209.1,244.4 209.3,246.3 209.5,248.3 209.7,250.4 209.9,241.1 210.0,250.6 210.2,244.2 210.4,246.7 210.6,248.3 210.8,243.6 211.0,248.4 211.2,242.6 211.4,249.3 211.5,244.9 211.7,242.6 211.9,249.2 212.1,240.3 212.3,244.0 212.5,252.9 212.7,242.5 212.8,241.0 213.0,247.3 213.2,247.2 213.4,245.6 213.6,252.2 213.8,246.2 214.0,243.8 214.1,248.1 214.3,243.1 214.5,239.9 214.7,251.9 214.9,251.4 215.1,248.2 215.3,244.3 215.4,245.0 215.6,248.8 215.8,249.4 216.0,248.2 216.2,241.1 216.4,248.8 216.6,247.7 216.7,243.2 216.9,246.7 217.1,248.8 217.3,241.7 217.5,244.9 217.7,247.8 217.9,246.9 218.0,253.2 218.2,246.8 218.4,245.0 218.6,243.1 218.8,242.8 219.0,251.0 219.2,247.0 219.4,246.6 219.5,245.3 219.7,243.3 219.9,242.1 220.1,246.8 220.3,248.7 220.5,244.8 220.7,247.1 220.8,240.3 221.0,244.3 221.2,245.1 221.4,242.4 221.6,247.1 221.8,246.2 222.0,245.7 222.1,243.3 222.3,241.6 222.5,243.2 222.7,243.4 222.9,246.4 223.1,244.8 223.3,246.7 223.4,242.9 223.6,248.2 223.8,246.7 224.0,246.0 224.2,244.6 224.4,249.2 224.6,248.0 224.7,250.0 224.9,251.8 225.1,245.0 225.3,247.1 225.5,253.0 225.7,251.8 225.9,247.6 226.1,251.2 226.2,252.8 226.4,246.4 226.6,251.7 226.8,251.6 227.0,249.1 227.2,253.1 227.4,251.2 227.5,251.1 227.7,249.7 227.9,254.3 228.1,249.2 228.3,251.6 228.5,247.7 228.7,252.5 228.8,267.5 229.0,255.2 229.2,257.2 229.4,254.2" fill="none" stroke="#f03030" stroke-width="0.55" stroke-linejoin="round" opacity="0.85"/>
<polyline points="24.9,204.9 25.1,204.1 25.3,208.1 25.5,212.4 25.6,209.1 25.8,214.9 26.0,214.8 26.2,213.3 26.4,215.6 26.6,222.9 26.8,223.0 26.9,220.8 27.1,223.6 27.3,226.6 27.5,227.5 27.7,237.6 27.9,234.3 28.1,188.9 28.2,238.9 28.4,240.0 28.6,237.7 28.8,235.8 29.0,236.8 29.2,238.2 29.4,240.0 29.6,235.5 29.7,238.3 29.9,243.9 30.1,239.2 30.3,237.8 30.5,241.9 30.7,238.8 30.9,235.4 31.0,240.4 31.2,240.0 31.4,240.1 31.6,242.8 31.8,241.5 32.0,243.1 32.2,241.3 32.3,242.8 32.5,238.0 32.7,241.1 32.9,238.5 33.1,244.4 33.3,241.0 33.5,239.5 33.6,232.0 33.8,242.9 34.0,241.6 34.2,241.1 34.4,242.4 34.6,242.7 34.8,240.2 34.9,245.0 35.1,246.8 35.3,243.2 35.5,241.0 35.7,247.8 35.9,237.6 36.1,240.9 36.3,239.3 36.4,243.0 36.6,240.6 36.8,235.3 37.0,235.0 37.2,238.2 37.4,240.4 37.6,239.8 37.7,235.6 37.9,241.0 38.1,241.4 38.3,239.0 38.5,236.0 38.7,241.2 38.9,237.1 39.0,235.8 39.2,188.9 39.4,291.1 39.6,234.7 39.8,235.4 40.0,240.7 40.2,232.0 40.3,234.9 40.5,235.1 40.7,236.8 40.9,236.7 41.1,242.9 41.3,236.7 41.5,234.5 41.6,234.6 41.8,238.2 42.0,242.9 42.2,239.6 42.4,237.5 42.6,233.2 42.8,241.2 42.9,236.8 43.1,235.3 43.3,235.3 43.5,210.9 43.7,233.4 43.9,226.7 44.1,237.0 44.3,235.9 44.4,231.8 44.6,219.4 44.8,233.5 45.0,237.9 45.2,237.8 45.4,239.8 45.6,234.4 45.7,242.5 45.9,224.6 46.1,236.7 46.3,237.8 46.5,221.4 46.7,212.7 46.9,233.4 47.0,238.1 47.2,225.5 47.4,236.9 47.6,224.8 47.8,234.0 48.0,240.6 48.2,235.0 48.3,234.3 48.5,235.6 48.7,238.0 48.9,240.4 49.1,243.4 49.3,237.3 49.5,201.8 49.6,214.4 49.8,291.1 50.0,220.7 50.2,232.1 50.4,238.5 50.6,240.7 50.8,240.4 51.0,245.2 51.1,242.1 51.3,240.7 51.5,236.8 51.7,239.7 51.9,244.0 52.1,236.3 52.3,239.8 52.4,237.8 52.6,243.5 52.8,250.2 53.0,243.4 53.2,244.2 53.4,240.7 53.6,245.8 53.7,219.6 53.9,291.1 54.1,241.5 54.3,244.5 54.5,238.1 54.7,239.7 54.9,239.6 55.0,242.6 55.2,241.3 55.4,239.6 55.6,244.4 55.8,238.6 56.0,242.3 56.2,238.6 56.3,235.9 56.5,237.9 56.7,245.4 56.9,211.0 57.1,243.6 57.3,244.1 57.5,243.8 57.6,246.5 57.8,242.8 58.0,245.6 58.2,240.7 58.4,243.1 58.6,251.3 58.8,247.0 59.0,247.3 59.1,246.6 59.3,246.7 59.5,244.4 59.7,245.6 59.9,248.4 60.1,244.3 60.3,243.2 60.4,245.8 60.6,242.8 60.8,245.0 61.0,247.9 61.2,247.6 61.4,246.7 61.6,245.3 61.7,246.4 61.9,244.1 62.1,243.6 62.3,249.6 62.5,250.0 62.7,247.1 62.9,245.5 63.0,244.3 63.2,245.0 63.4,245.0 63.6,249.3 63.8,245.7 64.0,248.5 64.2,245.6 64.3,244.2 64.5,248.5 64.7,247.3 64.9,239.9 65.1,248.7 65.3,248.0 65.5,249.7 65.7,250.6 65.8,243.9 66.0,248.5 66.2,248.3 66.4,248.8 66.6,254.3 66.8,244.5 67.0,248.1 67.1,246.7 67.3,242.8 67.5,247.0 67.7,246.2 67.9,246.1 68.1,243.0 68.3,250.2 68.4,248.1 68.6,252.5 68.8,246.4 69.0,244.7 69.2,247.6 69.4,239.9 69.6,243.7 69.7,241.0 69.9,246.0 70.1,221.3 70.3,267.3 70.5,245.2 70.7,246.0 70.9,247.5 71.0,241.7 71.2,242.6 71.4,248.2 71.6,244.3 71.8,246.0 72.0,245.8 72.2,244.5 72.3,247.5 72.5,245.5 72.7,245.1 72.9,247.5 73.1,247.2 73.3,243.3 73.5,245.5 73.7,239.1 73.8,239.6 74.0,247.5 74.2,244.5 74.4,250.9 74.6,247.1 74.8,247.7 75.0,247.3 75.1,251.1 75.3,244.4 75.5,244.6 75.7,247.2 75.9,245.1 76.1,242.3 76.3,240.3 76.4,248.3 76.6,240.2 76.8,249.2 77.0,246.7 77.2,245.4 77.4,239.9 77.6,242.4 77.7,242.4 77.9,239.6 78.1,243.2 78.3,244.9 78.5,239.5 78.7,244.1 78.9,246.8 79.0,248.0 79.2,242.7 79.4,237.9 79.6,240.9 79.8,242.7 80.0,239.4 80.2,246.7 80.4,241.3 80.5,243.9 80.7,238.5 80.9,244.5 81.1,239.9 81.3,241.4 81.5,241.8 81.7,239.9 81.8,242.0 82.0,291.1 82.2,242.0 82.4,247.3 82.6,237.3 82.8,237.7 83.0,240.0 83.1,237.7 83.3,239.7 83.5,244.0 83.7,247.4 83.9,244.7 84.1,242.7 84.3,240.6 84.4,246.0 84.6,244.7 84.8,238.1 85.0,244.3 85.2,244.5 85.4,245.2 85.6,234.6 85.7,240.6 85.9,240.4 86.1,219.6 86.3,257.0 86.5,239.4 86.7,242.2 86.9,240.8 87.1,241.6 87.2,241.5 87.4,246.7 87.6,244.2 87.8,244.7 88.0,245.5 88.2,243.9 88.4,238.8 88.5,241.2 88.7,243.6 88.9,243.0 89.1,240.1 89.3,247.3 89.5,242.9 89.7,239.5 89.8,239.2 90.0,241.7 90.2,242.6 90.4,249.2 90.6,246.2 90.8,244.4 91.0,243.2 91.1,243.2 91.3,250.6 91.5,245.8 91.7,243.6 91.9,246.5 92.1,245.0 92.3,243.0 92.4,243.5 92.6,243.9 92.8,242.4 93.0,241.3 93.2,245.1 93.4,247.1 93.6,246.0 93.7,245.3 93.9,244.0 94.1,247.9 94.3,245.7 94.5,244.2 94.7,239.6 94.9,241.8 95.1,243.5 95.2,240.6 95.4,242.4 95.6,242.1 95.8,239.7 96.0,241.5 96.2,241.9 96.4,202.5 96.5,291.1 96.7,241.8 96.9,247.6 97.1,242.9 97.3,237.4 97.5,242.4 97.7,241.3 97.8,242.4 98.0,243.9 98.2,239.6 98.4,241.0 98.6,237.9 98.8,243.3 99.0,240.8 99.1,241.9 99.3,242.6 99.5,238.0 99.7,243.0 99.9,243.0 100.1,234.1 100.3,241.2 100.4,241.6 100.6,239.8 100.8,243.8 101.0,240.1 101.2,244.3 101.4,242.4 101.6,242.6 101.8,237.4 101.9,239.4 102.1,236.1 102.3,236.5 102.5,243.0 102.7,239.7 102.9,242.3 103.1,242.9 103.2,188.9 103.4,291.1 103.6,240.8 103.8,240.2 104.0,240.2 104.2,240.1 104.4,239.9 104.5,243.6 104.7,239.1 104.9,233.6 105.1,243.8 105.3,240.9 105.5,239.7 105.7,238.1 105.8,239.3 106.0,239.4 106.2,242.0 106.4,239.0 106.6,239.5 106.8,239.2 107.0,241.9 107.1,235.2 107.3,237.7 107.5,237.8 107.7,239.4 107.9,240.3 108.1,236.9 108.3,243.0 108.4,240.6 108.6,240.1 108.8,237.6 109.0,239.9 109.2,235.1 109.4,243.7 109.6,234.5 109.8,237.8 109.9,236.0 110.1,239.9 110.3,235.6 110.5,239.2 110.7,237.5 110.9,242.1 111.1,236.5 111.2,237.6 111.4,242.9 111.6,188.9 111.8,291.1 112.0,235.2 112.2,239.2 112.4,236.8 112.5,233.7 112.7,239.6 112.9,232.0 113.1,236.5 113.3,237.8 113.5,188.9 113.7,291.1 113.8,234.5 114.0,238.3 114.2,238.9 114.4,234.4 114.6,235.6 114.8,237.3 115.0,237.1 115.1,243.2 115.3,235.4 115.5,238.3 115.7,239.0 115.9,233.2 116.1,239.7 116.3,237.7 116.5,232.9 116.6,237.3 116.8,240.6 117.0,241.5 117.2,236.0 117.4,242.9 117.6,237.3 117.8,235.3 117.9,240.2 118.1,237.8 118.3,240.0 118.5,236.4 118.7,239.7 118.9,242.5 119.1,239.7 119.2,240.4 119.4,242.6 119.6,241.5 119.8,244.2 120.0,243.1 120.2,238.9 120.4,245.6 120.5,239.7 120.7,240.3 120.9,241.8 121.1,236.2 121.3,238.0 121.5,241.4 121.7,239.1 121.8,237.0 122.0,243.7 122.2,238.7 122.4,239.9 122.6,238.0 122.8,233.2 123.0,240.6 123.1,239.6 123.3,205.9 123.5,291.1 123.7,236.6 123.9,244.9 124.1,234.1 124.3,233.6 124.5,245.1 124.6,241.9 124.8,236.4 125.0,237.4 125.2,234.4 125.4,188.9 125.6,291.1 125.8,241.2 125.9,236.3 126.1,238.5 126.3,238.6 126.5,242.1 126.7,238.3 126.9,233.4 127.1,238.9 127.2,237.7 127.4,236.8 127.6,239.8 127.8,236.4 128.0,235.6 128.2,237.9 128.4,242.3 128.5,233.0 128.7,237.1 128.9,237.3 129.1,237.9 129.3,238.9 129.5,241.9 129.7,237.5 129.8,236.9 130.0,234.6 130.2,232.7 130.4,239.2 130.6,232.7 130.8,236.8 131.0,235.4 131.2,239.7 131.3,235.9 131.5,239.4 131.7,234.9 131.9,240.1 132.1,236.5 132.3,237.7 132.5,235.5 132.6,235.8 132.8,236.0 133.0,237.7 133.2,233.9 133.4,234.7 133.6,238.3 133.8,234.1 133.9,237.8 134.1,235.7 134.3,236.2 134.5,236.1 134.7,233.7 134.9,240.8 135.1,212.7 135.2,291.1 135.4,232.4 135.6,234.3 135.8,239.9 136.0,234.8 136.2,236.7 136.4,239.0 136.5,232.5 136.7,232.7 136.9,234.7 137.1,219.7 137.3,235.3 137.5,236.5 137.7,232.1 137.8,237.8 138.0,233.5 138.2,232.7 138.4,235.1 138.6,235.4 138.8,234.4 139.0,235.0 139.2,237.6 139.3,245.6 139.5,237.1 139.7,239.8 139.9,233.0 140.1,237.0 140.3,235.1 140.5,233.7 140.6,233.1 140.8,238.5 141.0,230.1 141.2,233.6 141.4,234.4 141.6,238.8 141.8,230.8 141.9,234.7 142.1,233.5 142.3,237.5 142.5,231.5 142.7,232.8 142.9,237.3 143.1,231.6 143.2,240.1 143.4,234.9 143.6,235.6 143.8,235.6 144.0,239.6 144.2,238.8 144.4,235.2 144.5,235.1 144.7,238.3 144.9,239.0 145.1,239.8 145.3,234.8 145.5,239.0 145.7,240.1 145.9,243.9 146.0,243.6 146.2,241.8 146.4,244.4 146.6,239.9 146.8,239.7 147.0,241.6 147.2,240.1 147.3,239.2 147.5,243.8 147.7,210.6 147.9,211.0 148.1,291.1 148.3,243.1 148.5,238.9 148.6,240.0 148.8,238.0 149.0,241.1 149.2,237.6 149.4,243.4 149.6,237.0 149.8,239.9 149.9,238.1 150.1,236.3 150.3,242.4 150.5,240.8 150.7,241.2 150.9,239.5 151.1,238.8 151.2,237.3 151.4,238.0 151.6,239.8 151.8,237.9 152.0,236.6 152.2,236.8 152.4,233.7 152.5,241.3 152.7,238.9 152.9,243.3 153.1,241.5 153.3,238.0 153.5,236.3 153.7,241.1 153.9,238.5 154.0,239.6 154.2,238.5 154.4,239.3 154.6,241.3 154.8,246.2 155.0,244.1 155.2,239.0 155.3,240.3 155.5,234.4 155.7,240.0 155.9,237.7 156.1,243.5 156.3,244.2 156.5,239.8 156.6,235.8 156.8,239.3 157.0,241.4 157.2,239.4 157.4,238.9 157.6,239.4 157.8,240.6 157.9,243.6 158.1,243.9 158.3,242.2 158.5,241.2 158.7,244.5 158.9,236.5 159.1,239.3 159.2,242.4 159.4,238.9 159.6,234.4 159.8,225.9 160.0,240.5 160.2,238.4 160.4,245.0 160.6,242.8 160.7,243.4 160.9,239.2 161.1,209.3 161.3,291.1 161.5,242.8 161.7,242.3 161.9,243.1 162.0,237.6 162.2,244.0 162.4,245.0 162.6,240.9 162.8,243.4 163.0,240.5 163.2,242.1 163.3,241.9 163.5,241.9 163.7,246.7 163.9,247.7 164.1,236.7 164.3,245.4 164.5,240.9 164.6,245.4 164.8,242.6 165.0,243.2 165.2,238.5 165.4,243.1 165.6,246.8 165.8,246.5 165.9,241.8 166.1,240.3 166.3,237.3 166.5,237.0 166.7,246.7 166.9,243.2 167.1,246.3 167.2,242.2 167.4,240.8 167.6,248.0 167.8,240.7 168.0,241.1 168.2,243.8 168.4,244.8 168.6,238.6 168.7,243.6 168.9,246.2 169.1,243.0 169.3,240.5 169.5,241.5 169.7,248.7 169.9,247.1 170.0,244.6 170.2,243.1 170.4,243.1 170.6,212.7 170.8,291.1 171.0,230.6 171.2,247.9 171.3,246.2 171.5,243.9 171.7,247.7 171.9,243.4 172.1,242.9 172.3,244.5 172.5,241.7 172.6,238.2 172.8,244.9 173.0,241.7 173.2,244.1 173.4,238.6 173.6,239.3 173.8,242.6 173.9,244.2 174.1,240.3 174.3,242.6 174.5,245.7 174.7,245.0 174.9,242.6 175.1,236.1 175.3,239.0 175.4,230.9 175.6,239.2 175.8,237.9 176.0,237.5 176.2,244.6 176.4,239.8 176.6,217.6 176.7,239.9 176.9,240.1 177.1,248.1 177.3,240.7 177.5,244.9 177.7,238.5 177.9,242.5 178.0,241.9 178.2,241.3 178.4,246.7 178.6,241.6 178.8,244.6 179.0,238.6 179.2,242.7 179.3,244.4 179.5,237.9 179.7,242.1 179.9,244.0 180.1,241.7 180.3,241.9 180.5,240.8 180.6,244.2 180.8,238.6 181.0,240.6 181.2,237.1 181.4,240.0 181.6,244.3 181.8,238.7 182.0,242.3 182.1,241.4 182.3,237.3 182.5,244.9 182.7,237.7 182.9,238.3 183.1,246.0 183.3,240.2 183.4,240.1 183.6,237.5 183.8,243.8 184.0,245.5 184.2,291.1 184.4,242.3 184.6,242.0 184.7,242.8 184.9,236.8 185.1,242.5 185.3,237.4 185.5,238.2 185.7,241.5 185.9,236.9 186.0,235.9 186.2,238.1 186.4,239.5 186.6,236.6 186.8,240.5 187.0,236.9 187.2,233.9 187.3,241.5 187.5,242.7 187.7,236.0 187.9,240.5 188.1,239.5 188.3,238.0 188.5,240.2 188.6,238.3 188.8,241.5 189.0,240.4 189.2,239.3 189.4,237.7 189.6,237.8 189.8,238.5 190.0,238.0 190.1,238.4 190.3,240.2 190.5,236.5 190.7,242.3 190.9,234.1 191.1,237.7 191.3,238.1 191.4,242.1 191.6,238.2 191.8,239.7 192.0,244.2 192.2,242.1 192.4,245.0 192.6,240.5 192.7,237.8 192.9,238.9 193.1,243.9 193.3,243.8 193.5,241.4 193.7,241.1 193.9,238.5 194.0,241.3 194.2,237.1 194.4,241.5 194.6,237.0 194.8,243.7 195.0,241.0 195.2,239.3 195.3,236.9 195.5,237.6 195.7,241.2 195.9,242.2 196.1,238.6 196.3,238.6 196.5,214.4 196.7,291.1 196.8,241.5 197.0,236.3 197.2,234.8 197.4,239.8 197.6,239.5 197.8,233.7 198.0,233.9 198.1,239.0 198.3,238.6 198.5,241.5 198.7,235.3 198.9,236.0 199.1,236.5 199.3,230.3 199.4,236.9 199.6,236.7 199.8,235.6 200.0,236.8 200.2,233.2 200.4,236.6 200.6,291.1 200.7,229.9 200.9,237.5 201.1,239.2 201.3,235.4 201.5,237.5 201.7,237.5 201.9,235.1 202.0,233.3 202.2,239.7 202.4,236.1 202.6,241.2 202.8,232.9 203.0,220.1 203.2,233.6 203.3,230.3 203.5,231.5 203.7,233.9 203.9,240.4 204.1,229.8 204.3,235.9 204.5,232.6 204.7,236.0 204.8,235.2 205.0,230.1 205.2,238.9 205.4,237.6 205.6,235.0 205.8,231.2 206.0,240.8 206.1,230.5 206.3,235.0 206.5,231.8 206.7,226.5 206.9,232.2 207.1,217.9 207.3,291.1 207.4,234.1 207.6,232.9 207.8,233.8 208.0,232.8 208.2,234.2 208.4,234.9 208.6,235.2 208.7,217.5 208.9,237.4 209.1,233.6 209.3,230.3 209.5,238.0 209.7,239.1 209.9,232.6 210.0,236.8 210.2,236.7 210.4,233.1 210.6,234.1 210.8,237.0 211.0,236.1 211.2,239.4 211.4,237.1 211.5,235.8 211.7,234.2 211.9,234.3 212.1,212.7 212.3,236.3 212.5,233.5 212.7,235.6 212.8,239.2 213.0,235.8 213.2,235.8 213.4,235.0 213.6,235.7 213.8,236.8 214.0,239.7 214.1,238.3 214.3,236.8 214.5,236.0 214.7,235.7 214.9,237.1 215.1,236.5 215.3,234.4 215.4,237.9 215.6,240.0 215.8,242.6 216.0,238.7 216.2,237.3 216.4,240.1 216.6,235.2 216.7,241.7 216.9,240.5 217.1,239.8 217.3,243.2 217.5,237.2 217.7,242.1 217.9,243.4 218.0,245.3 218.2,238.0 218.4,237.1 218.6,243.5 218.8,244.8 219.0,242.2 219.2,241.0 219.4,242.5 219.5,239.7 219.7,244.0 219.9,235.5 220.1,237.0 220.3,238.4 220.5,242.3 220.7,238.6 220.8,236.7 221.0,243.2 221.2,240.9 221.4,238.5 221.6,240.1 221.8,243.6 222.0,242.6 222.1,239.7 222.3,240.3 222.5,242.9 222.7,240.1 222.9,291.1 223.1,240.6 223.3,238.0 223.4,238.0 223.6,241.6 223.8,239.7 224.0,239.6 224.2,240.5 224.4,242.3 224.6,243.9 224.7,241.6 224.9,243.3 225.1,245.6 225.3,236.6 225.5,243.8 225.7,241.6 225.9,241.5 226.1,244.5 226.2,238.8 226.4,244.3 226.6,234.8 226.8,243.4 227.0,241.7 227.2,239.9 227.4,239.7 227.5,239.2 227.7,236.1 227.9,235.2 228.1,232.2 228.3,241.5 228.5,235.1 228.7,236.0 228.8,238.5 229.0,241.2 229.2,230.9 229.4,234.1" fill="none" stroke="#3c3cdc" stroke-width="0.55" stroke-linejoin="round" opacity="0.85"/>
<polyline points="24.9,221.6 25.1,227.7 25.3,228.4 25.5,234.8 25.6,227.3 25.8,228.3 26.0,229.0 26.2,226.7 26.4,226.5 26.6,231.0 26.8,230.6 26.9,229.5 27.1,226.3 27.3,226.8 27.5,232.3 27.7,231.9 27.9,226.7 28.1,224.4 28.2,226.4 28.4,231.2 28.6,226.1 28.8,230.3 29.0,227.5 29.2,225.2 29.4,233.1 29.6,234.9 29.7,233.1 29.9,237.2 30.1,236.0 30.3,237.2 30.5,236.1 30.7,236.9 30.9,236.1 31.0,236.7 31.2,232.6 31.4,235.4 31.6,234.8 31.8,231.6 32.0,240.1 32.2,231.9 32.3,236.4 32.5,239.3 32.7,236.2 32.9,235.5 33.1,232.7 33.3,238.9 33.5,235.2 33.6,235.5 33.8,240.7 34.0,239.3 34.2,234.1 34.4,233.9 34.6,232.8 34.8,234.4 34.9,234.8 35.1,235.6 35.3,232.5 35.5,238.5 35.7,236.5 35.9,235.0 36.1,230.9 36.3,232.4 36.4,238.5 36.6,236.5 36.8,230.1 37.0,238.8 37.2,238.0 37.4,232.0 37.6,239.7 37.7,237.8 37.9,235.1 38.1,235.4 38.3,235.0 38.5,235.7 38.7,232.9 38.9,233.9 39.0,235.2 39.2,238.9 39.4,239.1 39.6,242.6 39.8,235.2 40.0,242.6 40.2,234.8 40.3,232.1 40.5,240.6 40.7,239.6 40.9,238.9 41.1,240.5 41.3,240.0 41.5,237.8 41.6,239.0 41.8,238.1 42.0,233.6 42.2,240.1 42.4,237.1 42.6,236.5 42.8,234.8 42.9,240.9 43.1,234.0 43.3,235.9 43.5,234.6 43.7,236.9 43.9,241.8 44.1,238.9 44.3,234.7 44.4,236.9 44.6,237.1 44.8,231.8 45.0,230.5 45.2,247.6 45.4,231.3 45.6,242.6 45.7,242.7 45.9,234.3 46.1,237.8 46.3,235.6 46.5,236.0 46.7,238.0 46.9,235.9 47.0,237.6 47.2,242.6 47.4,237.7 47.6,237.1 47.8,233.3 48.0,242.0 48.2,238.8 48.3,240.2 48.5,239.5 48.7,234.4 48.9,238.3 49.1,240.8 49.3,239.2 49.5,237.5 49.6,242.8 49.8,240.8 50.0,235.7 50.2,237.8 50.4,240.5 50.6,241.9 50.8,241.1 51.0,245.3 51.1,238.2 51.3,239.7 51.5,240.1 51.7,244.0 51.9,242.1 52.1,238.3 52.3,238.9 52.4,240.8 52.6,237.7 52.8,236.2 53.0,240.7 53.2,240.1 53.4,240.8 53.6,241.4 53.7,235.6 53.9,236.2 54.1,236.4 54.3,240.7 54.5,237.0 54.7,237.1 54.9,237.9 55.0,236.2 55.2,238.4 55.4,234.3 55.6,230.8 55.8,231.4 56.0,231.0 56.2,235.3 56.3,232.7 56.5,236.6 56.7,232.9 56.9,236.8 57.1,237.3 57.3,237.9 57.5,234.2 57.6,235.5 57.8,235.9 58.0,239.9 58.2,236.3 58.4,241.1 58.6,263.8 58.8,237.6 59.0,236.8 59.1,249.0 59.3,242.2 59.5,241.7 59.7,238.0 59.9,233.7 60.1,241.4 60.3,240.4 60.4,238.6 60.6,243.5 60.8,243.7 61.0,240.1 61.2,239.2 61.4,240.3 61.6,234.9 61.7,239.9 61.9,238.4 62.1,234.9 62.3,234.6 62.5,244.2 62.7,240.7 62.9,236.3 63.0,243.7 63.2,242.4 63.4,243.5 63.6,243.7 63.8,243.1 64.0,239.3 64.2,236.2 64.3,235.5 64.5,239.9 64.7,245.7 64.9,240.2 65.1,241.1 65.3,239.1 65.5,240.5 65.7,245.4 65.8,239.0 66.0,246.2 66.2,242.3 66.4,239.4 66.6,239.3 66.8,235.8 67.0,247.3 67.1,239.6 67.3,238.7 67.5,241.7 67.7,239.1 67.9,244.2 68.1,239.2 68.3,239.7 68.4,244.2 68.6,243.4 68.8,242.2 69.0,243.7 69.2,239.0 69.4,241.7 69.6,238.5 69.7,239.1 69.9,242.5 70.1,243.4 70.3,245.8 70.5,245.6 70.7,245.7 70.9,242.6 71.0,246.3 71.2,243.7 71.4,243.6 71.6,245.8 71.8,245.0 72.0,240.5 72.2,240.2 72.3,247.2 72.5,245.5 72.7,246.1 72.9,245.9 73.1,240.7 73.3,243.2 73.5,241.7 73.7,240.2 73.8,246.7 74.0,246.1 74.2,245.5 74.4,242.7 74.6,246.0 74.8,243.9 75.0,242.5 75.1,242.6 75.3,244.7 75.5,248.3 75.7,250.6 75.9,243.0 76.1,244.9 76.3,248.8 76.4,247.4 76.6,247.1 76.8,250.5 77.0,244.8 77.2,247.6 77.4,225.4 77.6,243.2 77.7,245.7 77.9,244.0 78.1,244.4 78.3,245.7 78.5,245.7 78.7,240.6 78.9,246.6 79.0,241.5 79.2,248.9 79.4,250.2 79.6,230.3 79.8,248.7 80.0,254.4 80.2,242.2 80.4,250.3 80.5,249.8 80.7,246.8 80.9,247.1 81.1,246.5 81.3,248.2 81.5,251.9 81.7,245.1 81.8,250.4 82.0,247.2 82.2,246.3 82.4,244.7 82.6,248.8 82.8,248.9 83.0,248.6 83.1,253.1 83.3,249.8 83.5,250.4 83.7,250.7 83.9,246.7 84.1,248.0 84.3,242.3 84.4,242.5 84.6,252.1 84.8,246.2 85.0,249.3 85.2,244.7 85.4,245.7 85.6,243.4 85.7,245.0 85.9,243.6 86.1,246.5 86.3,252.8 86.5,248.8 86.7,247.8 86.9,246.6 87.1,248.0 87.2,240.2 87.4,245.3 87.6,240.9 87.8,245.5 88.0,239.7 88.2,247.9 88.4,242.6 88.5,267.3 88.7,243.0 88.9,239.7 89.1,249.0 89.3,246.7 89.5,243.4 89.7,244.6 89.8,248.0 90.0,240.7 90.2,243.8 90.4,240.2 90.6,243.0 90.8,247.2 91.0,245.1 91.1,239.7 91.3,247.6 91.5,244.8 91.7,241.7 91.9,240.4 92.1,240.8 92.3,247.4 92.4,237.0 92.6,243.5 92.8,242.9 93.0,242.8 93.2,243.4 93.4,245.3 93.6,243.3 93.7,238.4 93.9,246.0 94.1,248.9 94.3,240.2 94.5,240.6 94.7,239.3 94.9,236.2 95.1,243.2 95.2,240.4 95.4,239.3 95.6,237.0 95.8,237.5 96.0,242.7 96.2,244.1 96.4,240.8 96.5,244.5 96.7,236.4 96.9,240.6 97.1,240.4 97.3,241.7 97.5,234.6 97.7,238.0 97.8,239.9 98.0,236.8 98.2,238.6 98.4,236.6 98.6,234.5 98.8,239.1 99.0,236.9 99.1,237.0 99.3,235.1 99.5,236.7 99.7,238.3 99.9,240.3 100.1,237.6 100.3,241.5 100.4,236.6 100.6,247.8 100.8,237.0 101.0,240.1 101.2,240.9 101.4,249.6 101.6,235.4 101.8,239.3 101.9,239.4 102.1,243.9 102.3,238.9 102.5,248.8 102.7,234.8 102.9,239.5 103.1,238.8 103.2,243.0 103.4,242.0 103.6,237.1 103.8,239.3 104.0,237.3 104.2,234.8 104.4,236.4 104.5,243.7 104.7,240.9 104.9,241.2 105.1,240.4 105.3,243.7 105.5,243.6 105.7,239.8 105.8,239.4 106.0,236.2 106.2,238.6 106.4,233.6 106.6,243.0 106.8,241.7 107.0,237.0 107.1,238.5 107.3,240.5 107.5,235.4 107.7,234.5 107.9,233.9 108.1,238.8 108.3,237.7 108.4,237.0 108.6,237.5 108.8,234.7 109.0,239.2 109.2,236.8 109.4,244.3 109.6,235.8 109.8,233.3 109.9,238.2 110.1,235.2 110.3,243.1 110.5,239.3 110.7,242.9 110.9,237.6 111.1,237.1 111.2,242.7 111.4,241.2 111.6,240.5 111.8,231.9 112.0,239.2 112.2,238.7 112.4,238.1 112.5,238.4 112.7,243.6 112.9,243.2 113.1,241.4 113.3,234.8 113.5,238.9 113.7,240.8 113.8,243.7 114.0,240.0 114.2,239.8 114.4,241.7 114.6,237.3 114.8,241.5 115.0,240.3 115.1,237.4 115.3,239.2 115.5,236.6 115.7,240.5 115.9,241.1 116.1,238.5 116.3,239.2 116.5,236.4 116.6,238.7 116.8,239.9 117.0,238.5 117.2,237.9 117.4,243.1 117.6,240.2 117.8,240.8 117.9,236.3 118.1,241.2 118.3,236.7 118.5,243.5 118.7,240.0 118.9,236.7 119.1,240.6 119.2,236.5 119.4,245.7 119.6,242.3 119.8,239.4 120.0,240.1 120.2,244.0 120.4,237.6 120.5,246.1 120.7,236.5 120.9,238.2 121.1,235.0 121.3,239.6 121.5,241.9 121.7,240.0 121.8,239.8 122.0,236.5 122.2,239.0 122.4,236.8 122.6,236.5 122.8,233.6 123.0,243.4 123.1,238.6 123.3,235.3 123.5,235.2 123.7,238.7 123.9,237.7 124.1,237.0 124.3,236.3 124.5,238.1 124.6,242.7 124.8,239.6 125.0,237.5 125.2,232.3 125.4,239.1 125.6,224.1 125.8,230.6 125.9,235.6 126.1,229.4 126.3,236.6 126.5,234.0 126.7,236.2 126.9,239.6 127.1,240.3 127.2,230.6 127.4,237.8 127.6,234.8 127.8,239.1 128.0,238.8 128.2,235.0 128.4,236.9 128.5,234.8 128.7,232.8 128.9,240.0 129.1,238.6 129.3,236.5 129.5,230.0 129.7,237.7 129.8,238.1 130.0,226.8 130.2,230.4 130.4,238.0 130.6,237.1 130.8,235.9 131.0,233.7 131.2,229.5 131.3,239.3 131.5,240.3 131.7,234.9 131.9,254.6 132.1,241.6 132.3,236.7 132.5,232.1 132.6,236.2 132.8,233.2 133.0,233.9 133.2,232.4 133.4,232.9 133.6,233.3 133.8,230.3 133.9,235.4 134.1,233.3 134.3,230.2 134.5,235.0 134.7,234.4 134.9,235.4 135.1,235.9 135.2,226.0 135.4,231.9 135.6,227.9 135.8,231.3 136.0,233.2 136.2,234.3 136.4,232.8 136.5,233.7 136.7,231.0 136.9,236.2 137.1,233.3 137.3,232.5 137.5,234.6 137.7,234.6 137.8,232.4 138.0,232.4 138.2,234.4 138.4,234.2 138.6,235.8 138.8,232.7 139.0,248.5 139.2,238.9 139.3,235.4 139.5,232.7 139.7,233.8 139.9,237.2 140.1,232.6 140.3,233.0 140.5,233.1 140.6,230.5 140.8,235.9 141.0,233.3 141.2,235.9 141.4,232.3 141.6,231.9 141.8,233.9 141.9,233.3 142.1,237.9 142.3,233.9 142.5,239.3 142.7,229.7 142.9,232.8 143.1,240.7 143.2,244.1 143.4,232.8 143.6,239.2 143.8,235.2 144.0,240.7 144.2,236.9 144.4,239.1 144.5,235.6 144.7,238.5 144.9,233.3 145.1,239.9 145.3,234.2 145.5,238.1 145.7,236.6 145.9,242.8 146.0,243.4 146.2,235.4 146.4,242.0 146.6,239.6 146.8,239.6 147.0,241.4 147.2,238.3 147.3,243.0 147.5,242.5 147.7,236.5 147.9,241.5 148.1,237.2 148.3,239.4 148.5,235.1 148.6,238.3 148.8,245.0 149.0,241.6 149.2,241.0 149.4,236.3 149.6,238.9 149.8,241.3 149.9,238.6 150.1,241.0 150.3,238.4 150.5,239.5 150.7,236.8 150.9,239.1 151.1,237.3 151.2,240.4 151.4,238.4 151.6,241.0 151.8,238.8 152.0,240.2 152.2,241.3 152.4,242.3 152.5,242.0 152.7,239.9 152.9,248.1 153.1,237.9 153.3,248.5 153.5,242.3 153.7,242.9 153.9,239.9 154.0,241.5 154.2,242.4 154.4,242.1 154.6,239.8 154.8,235.8 155.0,241.6 155.2,248.8 155.3,244.2 155.5,241.9 155.7,233.6 155.9,245.6 156.1,244.5 156.3,241.8 156.5,242.5 156.6,247.3 156.8,240.7 157.0,247.2 157.2,244.2 157.4,239.6 157.6,247.2 157.8,244.4 157.9,238.5 158.1,244.1 158.3,246.4 158.5,245.1 158.7,240.9 158.9,247.9 159.1,245.2 159.2,247.6 159.4,246.7 159.6,239.6 159.8,243.6 160.0,244.6 160.2,242.1 160.4,245.4 160.6,246.8 160.7,240.0 160.9,240.8 161.1,245.8 161.3,241.3 161.5,239.1 161.7,242.0 161.9,242.0 162.0,247.2 162.2,244.0 162.4,249.1 162.6,240.5 162.8,244.3 163.0,240.0 163.2,246.2 163.3,241.4 163.5,248.7 163.7,237.3 163.9,242.5 164.1,243.0 164.3,244.3 164.5,248.9 164.6,240.2 164.8,242.1 165.0,240.7 165.2,240.8 165.4,252.6 165.6,242.9 165.8,236.3 165.9,246.5 166.1,242.9 166.3,245.7 166.5,238.9 166.7,243.4 166.9,246.9 167.1,245.6 167.2,247.8 167.4,250.3 167.6,251.5 167.8,245.6 168.0,246.7 168.2,242.9 168.4,245.7 168.6,242.5 168.7,237.9 168.9,246.5 169.1,246.5 169.3,240.0 169.5,235.9 169.7,245.3 169.9,247.6 170.0,243.4 170.2,243.7 170.4,240.4 170.6,265.4 170.8,243.1 171.0,243.1 171.2,246.8 171.3,246.8 171.5,240.9 171.7,240.7 171.9,244.6 172.1,237.7 172.3,239.5 172.5,240.9 172.6,240.5 172.8,241.3 173.0,240.2 173.2,239.8 173.4,242.1 173.6,248.3 173.8,242.8 173.9,244.8 174.1,245.8 174.3,240.6 174.5,247.6 174.7,239.9 174.9,244.2 175.1,246.0 175.3,244.9 175.4,235.5 175.6,238.0 175.8,243.2 176.0,239.2 176.2,237.1 176.4,245.0 176.6,243.2 176.7,239.7 176.9,241.2 177.1,243.6 177.3,237.8 177.5,241.2 177.7,240.5 177.9,235.8 178.0,241.5 178.2,235.3 178.4,242.3 178.6,243.8 178.8,243.0 179.0,240.9 179.2,241.7 179.3,242.6 179.5,248.2 179.7,247.1 179.9,244.8 180.1,242.0 180.3,240.0 180.5,251.4 180.6,244.9 180.8,245.9 181.0,245.0 181.2,244.1 181.4,247.4 181.6,248.9 181.8,242.1 182.0,242.9 182.1,227.5 182.3,245.7 182.5,247.4 182.7,249.6 182.9,243.5 183.1,247.4 183.3,248.8 183.4,247.3 183.6,240.7 183.8,244.3 184.0,244.9 184.2,245.4 184.4,243.1 184.6,243.5 184.7,249.6 184.9,246.5 185.1,247.7 185.3,245.2 185.5,246.0 185.7,251.8 185.9,242.5 186.0,245.1 186.2,251.0 186.4,242.5 186.6,245.6 186.8,244.5 187.0,245.9 187.2,245.5 187.3,247.5 187.5,250.9 187.7,247.9 187.9,245.5 188.1,246.0 188.3,244.2 188.5,246.5 188.6,252.9 188.8,244.1 189.0,248.7 189.2,250.3 189.4,247.4 189.6,250.5 189.8,245.4 190.0,249.3 190.1,240.8 190.3,247.4 190.5,248.3 190.7,248.6 190.9,253.1 191.1,249.3 191.3,249.0 191.4,247.8 191.6,253.4 191.8,246.8 192.0,243.2 192.2,248.2 192.4,247.2 192.6,245.8 192.7,249.4 192.9,248.4 193.1,244.3 193.3,246.5 193.5,250.6 193.7,252.3 193.9,240.2 194.0,245.6 194.2,251.6 194.4,260.4 194.6,244.9 194.8,246.5 195.0,252.4 195.2,241.5 195.3,245.0 195.5,247.4 195.7,244.8 195.9,247.4 196.1,247.7 196.3,244.1 196.5,252.5 196.7,243.7 196.8,245.5 197.0,244.4 197.2,243.9 197.4,242.0 197.6,242.3 197.8,243.9 198.0,247.7 198.1,244.4 198.3,247.9 198.5,249.2 198.7,245.0 198.9,245.3 199.1,242.8 199.3,252.6 199.4,244.5 199.6,244.2 199.8,245.8 200.0,241.7 200.2,248.7 200.4,245.1 200.6,247.2 200.7,246.1 200.9,249.0 201.1,246.5 201.3,244.2 201.5,238.0 201.7,245.1 201.9,248.4 202.0,241.5 202.2,248.2 202.4,246.1 202.6,244.5 202.8,246.8 203.0,244.0 203.2,245.7 203.3,241.2 203.5,244.6 203.7,245.1 203.9,248.6 204.1,244.8 204.3,243.2 204.5,245.0 204.7,248.9 204.8,247.8 205.0,246.8 205.2,246.1 205.4,250.2 205.6,240.6 205.8,252.3 206.0,245.8 206.1,247.4 206.3,246.2 206.5,240.5 206.7,248.9 206.9,247.6 207.1,249.1 207.3,247.7 207.4,241.6 207.6,247.9 207.8,247.3 208.0,251.2 208.2,246.9 208.4,245.2 208.6,247.3 208.7,247.0 208.9,243.6 209.1,244.4 209.3,246.3 209.5,248.3 209.7,250.4 209.9,241.1 210.0,250.6 210.2,244.2 210.4,246.7 210.6,248.3 210.8,243.6 211.0,248.4 211.2,242.6 211.4,249.3 211.5,244.9 211.7,242.6 211.9,249.2 212.1,240.3 212.3,244.0 212.5,252.9 212.7,242.5 212.8,241.0 213.0,247.3 213.2,247.2 213.4,245.6 213.6,252.2 213.8,246.2 214.0,243.8 214.1,248.1 214.3,243.1 214.5,239.9 214.7,251.9 214.9,251.4 215.1,248.2 215.3,244.3 215.4,245.0 215.6,248.8 215.8,249.4 216.0,248.2 216.2,241.1 216.4,248.8 216.6,247.7 216.7,243.2 216.9,246.7 217.1,248.8 217.3,241.7 217.5,244.9 217.7,247.8 217.9,246.9 218.0,253.2 218.2,246.8 218.4,245.0 218.6,243.1 218.8,242.8 219.0,251.0 219.2,247.0 219.4,246.6 219.5,245.3 219.7,243.3 219.9,242.1 220.1,246.8 220.3,248.7 220.5,244.8 220.7,247.1 220.8,240.3 221.0,244.3 221.2,245.1 221.4,242.4 221.6,247.1 221.8,246.2 222.0,245.7 222.1,243.3 222.3,241.6 222.5,243.2 222.7,243.4 222.9,246.4 223.1,244.8 223.3,246.7 223.4,242.9 223.6,248.2 223.8,246.7 224.0,246.0 224.2,244.6 224.4,249.2 224.6,248.0 224.7,250.0 224.9,251.8 225.1,245.0 225.3,247.1 225.5,253.0 225.7,251.8 225.9,247.6 226.1,251.2 226.2,252.8 226.4,246.4 226.6,251.7 226.8,251.6 227.0,249.1 227.2,253.1 227.4,251.2 227.5,251.1 227.7,249.7 227.9,254.3 228.1,249.2 228.3,251.6 228.5,247.7 228.7,252.5 228.8,267.5 229.0,255.2 229.2,257.2 229.4,254.2" fill="none" stroke="#f03030" stroke-width="0.55" stroke-linejoin="round" opacity="0.55"/>
<path d="M24.9 188.9H229.4V291.1H24.9ZM54.1 291.1v-2.5M83.3 291.1v-2.5M112.5 291.1v-2.5M141.8 291.1v-2.5M171.0 291.1v-2.5M200.2 291.1v-2.5M24.9 205.9h2.5M24.9 223.0h2.5M24.9 240.0h2.5M24.9 257.0h2.5M24.9 274.1h2.5" stroke="#111" stroke-width="1.1" fill="none"/>
<text x="20.6" y="191.20000000000002" font-size="6.05" text-anchor="end" fill="#111">3</text>
<text x="20.6" y="208.23333333333335" font-size="6.05" text-anchor="end" fill="#111">2</text>
<text x="20.6" y="225.26666666666668" font-size="6.05" text-anchor="end" fill="#111">1</text>
<text x="20.6" y="242.3" font-size="6.05" text-anchor="end" fill="#111">0</text>
<text x="20.6" y="259.33333333333337" font-size="6.05" text-anchor="end" fill="#111">−1</text>
<text x="20.6" y="276.3666666666667" font-size="6.05" text-anchor="end" fill="#111">−2</text>
<text x="20.6" y="293.40000000000003" font-size="6.05" text-anchor="end" fill="#111">−3</text>
<text x="25.4" y="299.6" font-size="6.05" text-anchor="middle" fill="#111">0</text>
<text x="54.614285714285714" y="299.6" font-size="6.05" text-anchor="middle" fill="#111">40</text>
<text x="83.82857142857142" y="299.6" font-size="6.05" text-anchor="middle" fill="#111">80</text>
<text x="113.04285714285714" y="299.6" font-size="6.05" text-anchor="middle" fill="#111">120</text>
<text x="142.25714285714287" y="299.6" font-size="6.05" text-anchor="middle" fill="#111">160</text>
<text x="171.4714285714286" y="299.6" font-size="6.05" text-anchor="middle" fill="#111">200</text>
<text x="200.68571428571428" y="299.6" font-size="6.05" text-anchor="middle" fill="#111">240</text>
<text x="229.9" y="299.6" font-size="6.05" text-anchor="middle" fill="#111">280</text>
<text x="127.5" y="309.5" font-size="7.2" text-anchor="middle" textLength="26" lengthAdjust="spacingAndGlyphs" fill="#111">Time (s)</text>
<text x="0" y="0" font-size="7" text-anchor="middle" transform="translate(9.6 240) rotate(-90)" fill="#111">Deg</text>
<path d="M24.7 301.7V304.5H55.3V301.7M39.5 304.5V306" stroke="#333" stroke-width="0.7" fill="none"/>
<text x="40" y="313.1" font-size="6" text-anchor="middle" textLength="14" lengthAdjust="spacingAndGlyphs" fill="#111">1 trial</text>
<rect x="201.5" y="191.5" width="25.1" height="22" fill="none" stroke="#444" stroke-width="0.8"/>
<path d="M204.7 197.4H214.9" stroke="#f01818" stroke-width="0.9"/><path d="M204.7 208.5H214.9" stroke="#2828b4" stroke-width="0.9"/>
<text x="220.4" y="199.6" font-size="6.2" text-anchor="middle" fill="#111">X</text>
<text x="220.4" y="210.7" font-size="6.2" text-anchor="middle" fill="#111">Y</text>
<path d="M131.6 185.0L128.8 188.8" stroke="#e01818" stroke-width="1.4" fill="none"/><path d="M126.4 192.0L127.2 187.6L130.4 190.0Z" fill="#e01818"/>
<path d="M154.6 205.0L150.9 209.8" stroke="#e01818" stroke-width="1.4" fill="none"/><path d="M148.4 213.0L149.3 208.6L152.4 211.1Z" fill="#e01818"/>
</g>
<g id="panel_b2">
<defs>
<radialGradient id="heat" cx="0.5" cy="0.5" r="0.5">
<stop offset="0" stop-color="#fbdc2c"/><stop offset="0.3" stop-color="#f8c92e"/><stop offset="0.48" stop-color="#e9c735"/>
<stop offset="0.6" stop-color="#a9c552"/><stop offset="0.72" stop-color="#4dbb8c"/><stop offset="0.82" stop-color="#25a5c0"/>
<stop offset="0.92" stop-color="#2f8ae6" stop-opacity="0.9"/><stop offset="1" stop-color="#3f86ee" stop-opacity="0"/>
</radialGradient>
<linearGradient id="cbar" x1="0" y1="0" x2="0" y2="1">
<stop offset="0" stop-color="#f9e21f"/><stop offset="0.12" stop-color="#f8c12b"/><stop offset="0.22" stop-color="#e0b935"/><stop offset="0.33" stop-color="#b0bd4a"/>
<stop offset="0.43" stop-color="#62c084"/><stop offset="0.55" stop-color="#22aab8"/><stop offset="0.66" stop-color="#2492dc"/><stop offset="0.75" stop-color="#3a7ef2"/>
<stop offset="0.86" stop-color="#7fa4f6"/><stop offset="1" stop-color="#e6eafb"/>
</linearGradient>
<filter id="blur04b" x="-20%" y="-20%" width="140%" height="140%"><feGaussianBlur stdDeviation="0.45"/></filter>
<filter id="blur1" x="-20%" y="-20%" width="140%" height="140%"><feGaussianBlur stdDeviation="0.9"/></filter>
</defs>
<path d="M357.7 240.0h1.5M333.6 228.6h0.7M367.3 239.7h0.7M350.6 229.5h2.0M348.8 262.1h1.9M323.6 250.9h1.9M342.4 226.9h0.5M324.8 233.5h0.7M336.3 220.8h1.9M300.4 238.7h0.6M354.3 269.6h1.4M305.7 268.9h1.4M316.5 261.8h0.7M323.7 259.8h1.2M331.4 226.1h1.4M362.8 224.6h1.0M328.7 232.0h0.7M363.3 229.5h1.1M349.9 222.7h1.0M330.4 259.7h1.3M348.7 228.7h0.5M318.0 229.0h0.8M336.9 227.9h1.4M361.0 254.4h1.3M359.2 267.1h1.6M364.9 252.9h0.6M322.1 204.7h1.7M318.2 245.9h1.7M321.4 243.0h0.6M325.1 260.4h1.8M329.0 258.1h1.0M317.9 224.0h1.1M336.5 276.4h1.8M370.2 239.9h1.4M359.1 256.6h1.7M323.5 266.8h0.5M324.5 231.7h1.7M321.9 255.6h1.9M345.8 258.9h1.6M339.0 221.3h2.0M358.4 240.7h1.5M323.3 240.6h1.5M322.1 250.9h0.9M319.7 257.3h1.7M328.3 258.4h1.3M346.4 262.0h1.1M340.1 224.2h1.7M356.4 255.9h1.7M344.4 218.0h1.1M320.3 265.6h1.7M329.4 262.4h1.9M355.3 240.7h1.7M352.6 253.1h1.8M356.1 227.8h1.4M357.1 238.7h0.9M337.7 265.5h0.9M352.0 257.2h1.3M353.7 238.6h1.1M323.4 228.4h1.6M346.2 228.5h0.9M354.2 233.4h1.6M325.1 268.8h1.8M351.3 228.2h0.5M351.8 227.1h0.9M322.2 257.9h1.1M340.4 263.8h1.3M344.9 265.8h1.0M353.3 239.6h0.5M319.9 238.0h1.9M322.5 243.0h1.6M353.9 241.7h1.5M348.0 265.2h1.1M359.2 220.0h0.6M341.0 265.8h0.6M340.6 264.8h1.7M325.2 254.0h1.3M327.5 230.8h1.8M318.0 231.5h0.4M358.4 226.7h0.9M322.9 233.1h0.5M321.2 221.0h1.1M345.7 264.4h0.4M315.6 230.1h0.7M322.8 250.7h1.5M364.2 256.6h0.8M322.0 264.3h1.3M323.7 254.3h0.7M321.5 222.7h1.1M318.6 243.4h1.7M350.7 256.6h1.9M327.0 219.5h1.2M316.5 234.8h1.3M352.5 264.7h0.5M333.0 208.9h0.9M317.2 247.5h1.3M360.4 265.6h1.7M330.3 261.6h1.2M359.6 248.0h1.3M340.0 227.6h0.8M322.9 251.3h0.5M322.2 240.7h0.5M349.4 228.2h1.9M316.4 245.5h0.7M350.0 226.6h1.1M332.7 270.6h1.1M353.6 252.6h0.9M334.9 261.4h1.3M338.2 260.9h1.5M348.7 258.4h1.0M319.4 250.7h0.5M321.5 246.5h0.4M323.0 242.5h1.2M327.8 232.8h1.3M312.2 243.8h1.7M360.6 228.9h1.4M321.8 262.3h1.7M324.6 203.1h1.9M327.0 229.5h1.4M324.6 257.9h0.9M330.2 261.2h1.5M334.4 261.9h1.5M319.1 243.9h1.3M324.2 228.8h1.7M353.8 240.5h1.5M347.3 216.9h0.4M362.5 255.6h1.9M303.3 250.1h1.7M322.8 236.2h0.9M332.4 223.7h0.6M328.0 220.3h1.3" stroke="#b9cdf7" stroke-width="1.1" fill="none" opacity="0.75"/>
<path d="M329.1 263.6h1.7M340.5 261.8h0.8M343.3 269.3h0.7M339.4 267.9h0.5M332.4 259.8h1.8M334.2 267.2h1.7M334.3 263.0h0.8M343.4 271.4h0.9M336.5 273.4h1.5M329.6 260.5h0.9M335.4 280.0h1.5M339.3 271.4h1.6M334.9 267.7h1.8M328.3 268.2h0.4M338.6 261.1h1.3M331.4 275.1h1.1M336.4 263.1h1.0M328.9 259.6h0.8M338.0 266.1h1.1M329.7 261.4h1.7M338.1 268.2h1.6M336.8 261.5h1.6M332.7 265.5h1.7M333.6 274.9h1.3M333.1 274.0h1.4M339.0 263.4h1.4M333.8 266.1h1.5M338.0 261.9h1.1M342.0 277.5h1.3M333.2 260.9h0.5M332.1 263.0h1.0M335.0 285.4h0.4M336.1 261.3h0.4M342.4 261.7h1.8M338.0 262.8h1.8M339.2 265.0h1.6M330.9 261.6h0.6M344.7 267.2h1.3M332.7 260.8h0.5M334.1 261.4h0.6M335.3 263.8h1.9M337.7 268.2h1.1M336.3 278.4h1.9M339.8 275.7h0.6M333.5 263.8h0.6M337.7 273.2h1.2M340.7 265.4h1.8M325.4 267.2h1.3M335.2 271.3h0.8M332.1 265.2h1.9M340.9 273.6h1.4M329.2 270.8h1.5M328.2 270.9h0.5M336.6 270.5h1.8M332.1 266.5h0.9M333.9 262.2h0.7M336.3 269.2h1.2M334.5 268.1h1.0M340.2 262.5h1.9M332.6 265.4h1.7M338.7 281.2h1.4M337.1 272.7h1.5M336.4 267.1h1.0M337.3 268.7h0.5M336.8 285.1h1.7M342.5 260.1h0.9M348.8 266.1h1.4M335.4 260.6h1.4M339.0 263.5h1.3M333.9 265.8h0.9M328.3 272.5h0.9M341.8 265.0h1.2M339.7 279.4h1.5M331.4 262.9h1.7M334.0 269.3h1.2M339.1 261.9h0.6M337.3 266.0h1.3M332.6 266.7h1.6M337.2 264.2h1.9M331.0 262.6h0.8M340.7 271.8h1.3M337.3 259.6h0.8M329.9 280.4h1.5M342.0 265.1h0.8M331.6 267.9h1.5M328.6 260.7h1.5M338.4 267.4h1.5M338.6 279.1h0.5M347.1 260.3h0.9M343.5 273.0h0.9M335.1 268.3h0.6M333.5 261.8h1.1M337.8 270.2h1.0M331.0 264.9h0.4M346.7 265.3h0.7M328.0 280.1h0.6M343.0 260.8h1.3M335.1 260.1h0.8M344.6 270.9h0.9M339.7 268.2h0.5M345.7 276.3h1.2M336.8 276.2h0.7M335.1 261.6h1.0M331.6 267.6h0.4M334.4 261.9h1.9M333.5 279.9h0.9M339.2 261.9h0.8M332.2 284.5h0.5M336.1 262.0h1.6M336.0 267.2h1.6M335.0 265.8h1.3M337.1 266.6h1.5M335.4 271.6h0.9M334.3 263.9h1.6M347.0 268.5h1.8M337.7 279.5h0.8M329.8 266.5h0.8M330.4 279.1h1.9" stroke="#d9dde6" stroke-width="1.1" fill="none" opacity="0.8"/>
<path d="M352.5 241.2L349.2 241.9L352.1 243.1L350.1 243.7L352.5 245.2L350.4 245.5L355.2 248.6L355.8 250.4L354.7 251.3L352.3 251.1L352.6 253.0L350.8 253.0L350.5 254.4L350.9 257.0L347.2 253.9L346.0 254.0L347.5 259.5L345.5 258.3L345.3 261.9L343.7 261.6L342.2 261.5L340.6 260.5L339.2 259.8L338.0 259.0L336.7 259.5L335.2 260.3L333.5 261.8L330.9 264.9L329.5 263.7L329.6 259.7L329.6 256.8L324.6 262.0L325.8 257.6L326.8 254.3L324.3 255.0L320.6 256.3L317.9 256.3L317.6 254.3L315.8 253.3L314.5 251.9L317.8 248.8L322.5 245.8L320.8 245.0L321.3 243.6L319.9 242.5L320.7 241.2L319.5 239.9L316.8 238.1L321.7 237.6L319.4 235.7L319.6 234.3L320.6 233.2L317.4 229.9L320.1 229.6L320.6 228.1L319.6 225.2L324.5 227.6L323.7 224.7L323.3 221.6L327.3 224.5L327.3 221.6L328.1 219.8L329.7 219.1L331.4 219.0L332.8 218.0L335.2 222.1L336.5 221.3L337.9 222.0L339.2 224.4L340.6 222.6L341.8 223.2L343.6 221.2L344.6 222.7L345.9 223.1L346.9 224.2L347.2 226.3L347.0 228.8L348.8 228.2L348.5 230.2L349.7 230.5L349.3 232.2L354.9 229.3L353.2 232.1L351.2 234.5L352.6 235.0L354.3 235.5L349.8 238.0L352.2 238.3L351.8 239.3L353.2 240.2Z" fill="#4a8cf0" opacity="0.9" filter="url(#blur04b)"/>
<path d="M329.6 255.2L331.6 263.2L334.6 261.2L335.6 268.2L337.6 262.2L340.6 265.2L342.6 256.2Z" fill="#6a9ef2" opacity="0.8" filter="url(#blur04b)"/>
<path d="M320.2 239.3h1.2M320.6 229.7h1.3M346.3 256.4h1.0M345.4 255.9h1.3M355.6 227.2h0.7M319.9 238.2h0.5M354.5 244.7h0.8M345.9 254.7h0.8M340.5 226.1h1.0M325.7 260.0h1.1M354.7 227.3h1.0M355.5 248.4h0.5M357.2 234.3h0.6M337.6 258.9h1.0M333.8 263.2h0.7M351.3 226.5h0.6M328.4 255.4h1.3M321.1 251.0h0.8M349.0 225.4h0.9M350.0 229.0h0.8M330.4 223.0h1.0M355.2 237.3h0.7M349.1 225.7h0.5M356.2 227.8h0.8M321.3 256.0h0.8M353.2 255.5h0.7M348.4 259.1h0.6M355.4 240.3h0.8M356.9 233.3h0.5M354.3 233.1h0.6M337.9 260.7h1.1M320.4 236.2h1.1M355.8 233.3h0.6M353.0 258.5h1.3M336.3 221.5h1.2M343.3 220.9h0.9M335.7 223.6h1.2M345.0 222.9h0.5M323.1 251.7h0.6M326.0 232.6h0.7M350.1 256.9h0.6M348.0 261.8h0.7M321.9 238.9h0.5M334.8 223.7h0.9M355.0 242.7h0.9M329.7 223.1h1.3M324.4 257.9h1.1M331.6 220.6h1.2M333.5 226.5h0.7M320.7 233.7h1.3M318.9 232.6h1.0M353.6 250.9h0.9M349.9 256.2h1.0M344.5 221.8h1.2M348.5 229.2h1.2M320.6 250.0h0.7M333.6 259.5h1.3M317.9 250.4h1.3M342.1 223.2h0.8M342.0 223.3h0.6M350.4 228.3h1.0M341.3 220.8h1.3M316.1 239.9h0.5M320.0 246.3h1.0M341.8 262.4h1.2M355.6 235.4h1.3M325.9 252.5h1.1M354.9 244.4h0.6M329.0 261.2h0.6M359.4 237.9h1.2" stroke="#fff" stroke-width="0.9" fill="none" opacity="0.85"/>
<ellipse cx="338.6" cy="241.2" rx="16.5" ry="16" fill="url(#heat)"/>
<circle cx="338.6" cy="241.2" r="5.6" fill="none" stroke="#e02828" stroke-width="0.6" stroke-dasharray="1.3 1.1"/>
<circle cx="338.6" cy="241.2" r="11.3" fill="none" stroke="#e02828" stroke-width="0.6" stroke-dasharray="1.3 1.1"/>
<circle cx="338.6" cy="241.2" r="0.6" fill="#e02828"/>
<path d="M293.3 194.7V288.0H386.6M293.3 195.2h4M293.3 288.0v-4.2M293.3 218.4h4M316.5 288.0v-4.2M293.3 241.6h4M339.7 288.0v-4.2M293.3 264.8h4M362.9 288.0v-4.2M293.3 288.0h4M386.1 288.0v-4.2" stroke="#111" stroke-width="1.1" fill="none"/>
<text x="289.3" y="196.89999999999998" font-size="6.05" text-anchor="end" fill="#111">4</text>
<text x="289.3" y="220.09999999999997" font-size="6.05" text-anchor="end" fill="#111">2</text>
<text x="289.3" y="243.29999999999998" font-size="6.05" text-anchor="end" fill="#111">0</text>
<text x="289.3" y="266.5" font-size="6.05" text-anchor="end" fill="#111">−2</text>
<text x="289.3" y="289.7" font-size="6.05" text-anchor="end" fill="#111">−4</text>
<text x="292.5" y="297.0" font-size="6.05" text-anchor="middle" fill="#111">−4</text>
<text x="315.7" y="297.0" font-size="6.05" text-anchor="middle" fill="#111">−2</text>
<text x="339.70000000000005" y="297.0" font-size="6.05" text-anchor="middle" fill="#111">0</text>
<text x="362.90000000000003" y="297.0" font-size="6.05" text-anchor="middle" fill="#111">2</text>
<text x="386.1" y="297.0" font-size="6.05" text-anchor="middle" fill="#111">4</text>
<text x="339.3" y="307.3" font-size="7.2" text-anchor="middle" textLength="27" lengthAdjust="spacingAndGlyphs" fill="#111">Degrees</text>
<text x="0" y="0" font-size="7.2" text-anchor="middle" textLength="27" lengthAdjust="spacingAndGlyphs" transform="translate(276.8 240.4) rotate(-90)" fill="#111">Degrees</text>
<rect x="397.2" y="203.9" width="6" height="76.6" fill="url(#cbar)"/>
<text x="400" y="201.6" font-size="5.6" text-anchor="middle" fill="#111">1</text>
<text x="400" y="288.2" font-size="5.6" text-anchor="middle" fill="#111">0</text>
</g>
<g id="panel_c">
<text x="0" y="331" font-size="9.4" font-weight="bold" textLength="5.4" lengthAdjust="spacingAndGlyphs" fill="#111">c</text>
<text x="11.9" y="330.6" font-size="7.7" textLength="84" lengthAdjust="spacingAndGlyphs" fill="#111">BOLD signal timecourse</text>
<path d="M54.1 337.7V440.1M83.2 337.7V440.1M112.4 337.7V440.1M141.6 337.7V440.1M170.8 337.7V440.1M199.9 337.7V440.1" stroke="#9a9a9a" stroke-width="0.9" stroke-dasharray="5.5 4.4" fill="none"/>
<path d="M24.9 385.0V392.8M23.5 385.0h2.8M23.5 392.8h2.8M27.1 385.8V394.6M25.7 385.8h2.8M25.7 394.6h2.8M29.3 381.4V391.2M27.9 381.4h2.8M27.9 391.2h2.8M31.5 383.4V391.9M30.1 383.4h2.8M30.1 391.9h2.8M33.7 388.5V399.6M32.3 388.5h2.8M32.3 399.6h2.8M35.8 384.6V395.7M34.4 384.6h2.8M34.4 395.7h2.8M38.0 385.1V395.8M36.6 385.1h2.8M36.6 395.8h2.8M40.2 371.4V380.8M38.8 371.4h2.8M38.8 380.8h2.8M42.4 360.5V371.2M41.0 360.5h2.8M41.0 371.2h2.8M44.6 364.3V372.5M43.2 364.3h2.8M43.2 372.5h2.8M46.8 354.8V363.6M45.4 354.8h2.8M45.4 363.6h2.8M49.0 367.6V376.9M47.6 367.6h2.8M47.6 376.9h2.8M51.2 367.3V377.7M49.8 367.3h2.8M49.8 377.7h2.8M53.3 363.7V373.1M51.9 363.7h2.8M51.9 373.1h2.8M55.5 366.9V375.1M54.1 366.9h2.8M54.1 375.1h2.8M57.7 379.3V388.2M56.3 379.3h2.8M56.3 388.2h2.8M59.9 387.0V395.9M58.5 387.0h2.8M58.5 395.9h2.8M62.1 393.5V402.2M60.7 393.5h2.8M60.7 402.2h2.8M64.3 395.0V403.3M62.9 395.0h2.8M62.9 403.3h2.8M66.5 398.4V407.6M65.1 398.4h2.8M65.1 407.6h2.8M68.7 391.9V401.2M67.3 391.9h2.8M67.3 401.2h2.8M70.8 378.6V389.0M69.4 378.6h2.8M69.4 389.0h2.8M73.0 376.0V386.5M71.6 376.0h2.8M71.6 386.5h2.8M75.2 379.0V388.6M73.8 379.0h2.8M73.8 388.6h2.8M77.4 376.6V385.9M76.0 376.6h2.8M76.0 385.9h2.8M79.6 365.0V375.4M78.2 365.0h2.8M78.2 375.4h2.8M81.8 365.0V375.9M80.4 365.0h2.8M80.4 375.9h2.8M84.0 371.1V381.1M82.6 371.1h2.8M82.6 381.1h2.8M86.2 381.1V391.6M84.8 381.1h2.8M84.8 391.6h2.8M88.3 382.1V393.1M86.9 382.1h2.8M86.9 393.1h2.8M90.5 385.0V392.8M89.1 385.0h2.8M89.1 392.8h2.8M92.7 385.5V396.4M91.3 385.5h2.8M91.3 396.4h2.8M94.9 382.0V390.7M93.5 382.0h2.8M93.5 390.7h2.8M97.1 388.8V398.2M95.7 388.8h2.8M95.7 398.2h2.8M99.3 381.1V391.6M97.9 381.1h2.8M97.9 391.6h2.8M101.5 373.5V383.8M100.1 373.5h2.8M100.1 383.8h2.8M103.7 366.9V375.1M102.3 366.9h2.8M102.3 375.1h2.8M105.9 367.8V377.8M104.5 367.8h2.8M104.5 377.8h2.8M108.0 367.5V375.5M106.6 367.5h2.8M106.6 375.5h2.8M110.2 369.8V378.8M108.8 369.8h2.8M108.8 378.8h2.8M112.4 364.5V375.1M111.0 364.5h2.8M111.0 375.1h2.8M114.6 376.2V385.4M113.2 376.2h2.8M113.2 385.4h2.8M116.8 383.1V392.9M115.4 383.1h2.8M115.4 392.9h2.8M119.0 387.6V397.9M117.6 387.6h2.8M117.6 397.9h2.8M121.2 393.8V404.4M119.8 393.8h2.8M119.8 404.4h2.8M123.4 393.9V404.3M122.0 393.9h2.8M122.0 404.3h2.8M125.5 389.1V396.8M124.1 389.1h2.8M124.1 396.8h2.8M127.7 384.8V394.0M126.3 384.8h2.8M126.3 394.0h2.8M129.9 376.0V385.3M128.5 376.0h2.8M128.5 385.3h2.8M132.1 373.6V381.5M130.7 373.6h2.8M130.7 381.5h2.8M134.3 371.6V381.2M132.9 371.6h2.8M132.9 381.2h2.8M136.5 366.7V376.5M135.1 366.7h2.8M135.1 376.5h2.8M138.7 366.5V377.2M137.3 366.5h2.8M137.3 377.2h2.8M140.9 371.2V382.2M139.5 371.2h2.8M139.5 382.2h2.8M143.0 375.7V383.9M141.6 375.7h2.8M141.6 383.9h2.8M145.2 379.9V388.4M143.8 379.9h2.8M143.8 388.4h2.8M147.4 381.4V391.5M146.0 381.4h2.8M146.0 391.5h2.8M149.6 388.4V396.5M148.2 388.4h2.8M148.2 396.5h2.8M151.8 394.4V402.9M150.4 394.4h2.8M150.4 402.9h2.8M154.0 396.5V406.2M152.6 396.5h2.8M152.6 406.2h2.8M156.2 389.0V397.3M154.8 389.0h2.8M154.8 397.3h2.8M158.4 382.7V393.2M157.0 382.7h2.8M157.0 393.2h2.8M160.5 378.9V389.7M159.1 378.9h2.8M159.1 389.7h2.8M162.7 374.2V382.0M161.3 374.2h2.8M161.3 382.0h2.8M164.9 372.9V382.5M163.5 372.9h2.8M163.5 382.5h2.8M167.1 371.2V381.7M165.7 371.2h2.8M165.7 381.7h2.8M169.3 370.4V381.5M167.9 370.4h2.8M167.9 381.5h2.8M171.5 376.9V385.6M170.1 376.9h2.8M170.1 385.6h2.8M173.7 376.6V384.9M172.3 376.6h2.8M172.3 384.9h2.8M175.9 383.0V393.8M174.5 383.0h2.8M174.5 393.8h2.8M178.1 393.0V403.9M176.7 393.0h2.8M176.7 403.9h2.8M180.2 391.2V399.6M178.8 391.2h2.8M178.8 399.6h2.8M182.4 388.3V397.6M181.0 388.3h2.8M181.0 397.6h2.8M184.6 376.1V386.4M183.2 376.1h2.8M183.2 386.4h2.8M186.8 368.8V379.5M185.4 368.8h2.8M185.4 379.5h2.8M189.0 379.0V387.2M187.6 379.0h2.8M187.6 387.2h2.8M191.2 377.0V387.1M189.8 377.0h2.8M189.8 387.1h2.8M193.4 365.4V376.0M192.0 365.4h2.8M192.0 376.0h2.8M195.6 360.8V370.5M194.2 360.8h2.8M194.2 370.5h2.8M197.7 360.6V368.9M196.3 360.6h2.8M196.3 368.9h2.8M199.9 354.7V362.5M198.5 354.7h2.8M198.5 362.5h2.8M202.1 367.9V376.6M200.7 367.9h2.8M200.7 376.6h2.8M204.3 374.4V385.0M202.9 374.4h2.8M202.9 385.0h2.8M206.5 378.3V386.1M205.1 378.3h2.8M205.1 386.1h2.8M208.7 381.5V389.2M207.3 381.5h2.8M207.3 389.2h2.8M210.9 385.4V394.4M209.5 385.4h2.8M209.5 394.4h2.8M213.1 389.7V397.7M211.7 389.7h2.8M211.7 397.7h2.8M215.2 390.0V398.2M213.8 390.0h2.8M213.8 398.2h2.8M217.4 384.7V392.4M216.0 384.7h2.8M216.0 392.4h2.8M219.6 371.0V380.5M218.2 371.0h2.8M218.2 380.5h2.8M221.8 376.8V386.9M220.4 376.8h2.8M220.4 386.9h2.8M224.0 372.6V381.8M222.6 372.6h2.8M222.6 381.8h2.8M226.2 384.4V392.6M224.8 384.4h2.8M224.8 392.6h2.8M228.4 383.8V392.7M227.0 383.8h2.8M227.0 392.7h2.8" stroke="#111" stroke-width="0.7" fill="none"/>
<polyline points="24.9,388.9 27.1,390.2 29.3,386.3 31.5,387.6 33.7,394.0 35.8,390.2 38.0,390.4 40.2,376.1 42.4,365.9 44.6,368.4 46.8,359.2 49.0,372.3 51.2,372.5 53.3,368.4 55.5,371.0 57.7,383.8 59.9,391.5 62.1,397.9 64.3,399.1 66.5,403.0 68.7,396.6 70.8,383.8 73.0,381.2 75.2,383.8 77.4,381.2 79.6,370.2 81.8,370.5 84.0,376.1 86.2,386.3 88.3,387.6 90.5,388.9 92.7,390.9 94.9,386.3 97.1,393.5 99.3,386.3 101.5,378.7 103.7,371.0 105.9,372.8 108.0,371.5 110.2,374.3 112.4,369.8 114.6,380.8 116.8,388.0 119.0,392.8 121.2,399.1 123.4,399.1 125.5,393.0 127.7,389.4 129.9,380.6 132.1,377.6 134.3,376.4 136.5,371.6 138.7,371.9 140.9,376.7 143.0,379.8 145.2,384.1 147.4,386.4 149.6,392.4 151.8,398.7 154.0,401.3 156.2,393.1 158.4,388.0 160.5,384.3 162.7,378.1 164.9,377.7 167.1,376.4 169.3,376.0 171.5,381.2 173.7,380.8 175.9,388.4 178.1,398.4 180.2,395.4 182.4,393.0 184.6,381.3 186.8,374.1 189.0,383.1 191.2,382.1 193.4,370.7 195.6,365.6 197.7,364.7 199.9,358.6 202.1,372.2 204.3,379.7 206.5,382.2 208.7,385.3 210.9,389.9 213.1,393.7 215.2,394.1 217.4,388.6 219.6,375.7 221.8,381.8 224.0,377.2 226.2,388.5 228.4,388.2" fill="none" stroke="#111" stroke-width="0.9" stroke-linejoin="round"/>
<path d="M24.9 337.7H229.1V440.1H24.9ZM54.1 440.1v-2.5M83.2 440.1v-2.5M112.4 440.1v-2.5M141.6 440.1v-2.5M170.8 440.1v-2.5M199.9 440.1v-2.5M24.9 363.3h2.5M24.9 388.9h2.5M24.9 414.5h2.5" stroke="#111" stroke-width="1.1" fill="none"/>
<text x="20.6" y="340.0" font-size="6.05" text-anchor="end" fill="#111">10</text>
<text x="20.6" y="365.6" font-size="6.05" text-anchor="end" fill="#111">5</text>
<text x="20.6" y="391.2" font-size="6.05" text-anchor="end" fill="#111">0</text>
<text x="20.6" y="416.8" font-size="6.05" text-anchor="end" fill="#111">−5</text>
<text x="20.6" y="442.40000000000003" font-size="6.05" text-anchor="end" fill="#111">−10</text>
<text x="25.4" y="448.7" font-size="6.05" text-anchor="middle" fill="#111">0</text>
<text x="54.57142857142857" y="448.7" font-size="6.05" text-anchor="middle" fill="#111">40</text>
<text x="83.74285714285713" y="448.7" font-size="6.05" text-anchor="middle" fill="#111">80</text>
<text x="112.91428571428571" y="448.7" font-size="6.05" text-anchor="middle" fill="#111">120</text>
<text x="142.0857142857143" y="448.7" font-size="6.05" text-anchor="middle" fill="#111">160</text>
<text x="171.25714285714287" y="448.7" font-size="6.05" text-anchor="middle" fill="#111">200</text>
<text x="200.42857142857144" y="448.7" font-size="6.05" text-anchor="middle" fill="#111">240</text>
<text x="229.6" y="448.7" font-size="6.05" text-anchor="middle" fill="#111">280</text>
<text x="127.5" y="458.4" font-size="7.2" text-anchor="middle" textLength="26" lengthAdjust="spacingAndGlyphs" fill="#111">Time (s)</text>
<text x="0" y="0" font-size="7" text-anchor="middle" textLength="51" lengthAdjust="spacingAndGlyphs" transform="translate(6.6 388.5) rotate(-90)" fill="#111">BOLD signal (%)</text>
</g>
<g id="panel_c2">
<rect x="312.4" y="340.5" width="60.0" height="96.2" fill="#fef4d6"/>
<polyline points="282.4,399.2 288.4,402.6 294.4,401.1 300.4,397.8 306.4,395.4 312.4,398.2 318.4,389.6 324.4,387.2 330.4,383.8 336.4,379.5 342.4,379.5 348.4,380.4 354.4,375.6 360.4,377.1 366.4,374.2 372.4,379.5 378.4,384.3 384.4,394.9 390.4,393.9 396.4,402.1" fill="none" stroke="#2a2ae0" stroke-width="0.8"/>
<circle cx="282.4" cy="399.2" r="1.35" fill="#2222dd"/>
<circle cx="288.4" cy="402.6" r="1.35" fill="#2222dd"/>
<circle cx="294.4" cy="401.1" r="1.35" fill="#2222dd"/>
<circle cx="300.4" cy="397.8" r="1.35" fill="#2222dd"/>
<circle cx="306.4" cy="395.4" r="1.35" fill="#2222dd"/>
<circle cx="312.4" cy="398.2" r="1.35" fill="#2222dd"/>
<circle cx="318.4" cy="389.6" r="1.35" fill="#2222dd"/>
<circle cx="324.4" cy="387.2" r="1.35" fill="#2222dd"/>
<circle cx="330.4" cy="383.8" r="1.35" fill="#2222dd"/>
<circle cx="336.4" cy="379.5" r="1.35" fill="#2222dd"/>
<circle cx="342.4" cy="379.5" r="1.35" fill="#2222dd"/>
<circle cx="348.4" cy="380.4" r="1.35" fill="#2222dd"/>
<circle cx="354.4" cy="375.6" r="1.35" fill="#2222dd"/>
<circle cx="360.4" cy="377.1" r="1.35" fill="#2222dd"/>
<circle cx="366.4" cy="374.2" r="1.35" fill="#2222dd"/>
<circle cx="372.4" cy="379.5" r="1.35" fill="#2222dd"/>
<circle cx="378.4" cy="384.3" r="1.35" fill="#2222dd"/>
<circle cx="384.4" cy="394.9" r="1.35" fill="#2222dd"/>
<circle cx="390.4" cy="393.9" r="1.35" fill="#2222dd"/>
<circle cx="396.4" cy="402.1" r="1.35" fill="#2222dd"/>
<path d="M282.4 340.5H402.4V436.75H282.4ZM297.4 436.75v-2.2M312.4 436.75v-2.2M327.4 436.75v-2.2M342.4 436.75v-2.2M357.4 436.75v-2.2M372.4 436.75v-2.2M387.4 436.75v-2.2M282.4 364.6h2.2M282.4 388.6h2.2M282.4 412.7h2.2" stroke="#111" stroke-width="0.9" fill="none"/>
<text x="278.6" y="342.7" font-size="6.05" text-anchor="end" fill="#111">10</text>
<text x="278.6" y="366.7625" font-size="6.05" text-anchor="end" fill="#111">5</text>
<text x="278.6" y="390.825" font-size="6.05" text-anchor="end" fill="#111">0</text>
<text x="278.6" y="414.8875" font-size="6.05" text-anchor="end" fill="#111">−5</text>
<text x="278.6" y="438.95" font-size="6.05" text-anchor="end" fill="#111">−10</text>
<text x="282.4" y="445.4" font-size="6.05" text-anchor="middle" fill="#111">0</text>
<text x="312.4" y="445.4" font-size="6.05" text-anchor="middle" fill="#111">10</text>
<text x="372.4" y="445.4" font-size="6.05" text-anchor="middle" fill="#111">30</text>
<text x="342.3" y="455" font-size="7.2" text-anchor="middle" textLength="26" lengthAdjust="spacingAndGlyphs" fill="#111">Time (s)</text>
<text x="0" y="0" font-size="7" text-anchor="middle" textLength="51" lengthAdjust="spacingAndGlyphs" transform="translate(266 388.5) rotate(-90)" fill="#111">BOLD signal (%)</text>
</g>
<g id="panel_d">
<text x="0" y="474.6" font-size="9.4" font-weight="bold" textLength="6.2" lengthAdjust="spacingAndGlyphs" fill="#111">d</text>
<text x="11.9" y="474.2" font-size="7.7" textLength="62" lengthAdjust="spacingAndGlyphs" fill="#111">Map stability in V1</text>
<defs>
<filter id="bl12" x="-10%" y="-10%" width="120%" height="120%"><feGaussianBlur stdDeviation="1.2"/></filter>
<filter id="bl07" x="-10%" y="-10%" width="120%" height="120%"><feGaussianBlur stdDeviation="0.6"/></filter>
<filter id="bl04" x="-10%" y="-10%" width="120%" height="120%"><feGaussianBlur stdDeviation="0.35"/></filter>
<filter id="mrid" x="0" y="0" width="100%" height="100%" color-interpolation-filters="sRGB">
<feTurbulence type="fractalNoise" baseFrequency="0.45" numOctaves="2" seed="9" result="n"/>
<feColorMatrix in="n" type="matrix" values="0.4 0.4 0.4 0 -0.1  0.4 0.4 0.4 0 -0.1  0.4 0.4 0.4 0 -0.1  0 0 0 0 1" result="g"/>
<feComposite in="SourceGraphic" in2="g" operator="arithmetic" k1="0.9" k2="0.6" k3="0" k4="0" result="m"/>
<feComposite in="m" in2="SourceGraphic" operator="in"/>
</filter>
<clipPath id="cd1"><rect x="22.3" y="480.1" width="91" height="84.4"/></clipPath>
<clipPath id="cd2"><rect x="113.3" y="480.1" width="87.5" height="84.4"/></clipPath>
<clipPath id="cd3"><rect x="200.8" y="480.1" width="88.2" height="84.4"/></clipPath>
<linearGradient id="hot" x1="0" y1="0" x2="1" y2="0"><stop offset="0" stop-color="#e8200a"/><stop offset="0.45" stop-color="#f87a08"/><stop offset="1" stop-color="#ffd21e"/></linearGradient>
</defs>
<rect x="22.3" y="480.1" width="266.7" height="84.4" fill="#000"/>
<defs><g id="anat">
<g filter="url(#bl12)">
<path d="M13 -3L9 12L10 25L15 38L23 50L34 60L47 68L62 72.5L76.5 74L95 73.5L95 -3Z" fill="#1a1a1a"/>
<path d="M19.4 -3L16 11.7L17 23.4L20.5 35L27.5 46.7L36.9 56L48.5 64.2L62.5 68.8L76.5 70.5L95 70L95 -3Z" fill="#525252"/>
<path d="M21 9Q30 3 42 4T57 16" stroke="#8a8a8a" stroke-width="4.5" fill="none"/>
<path d="M23 24Q32 18 44 19" stroke="#787878" stroke-width="4" fill="none"/>
<ellipse cx="52" cy="38" rx="17" ry="8.5" transform="rotate(18 52 38)" fill="#929292"/>
<path d="M60 3Q72 5 90 14" stroke="#868686" stroke-width="3.5" fill="none"/>
<path d="M68 20Q78 22 90 30" stroke="#808080" stroke-width="4" fill="none"/>
<path d="M72 36Q80 40 90 46" stroke="#828282" stroke-width="3.5" fill="none"/>
<path d="M24 16Q36 10 48 14T56 26" stroke="#151515" stroke-width="2.2" fill="none"/>
<path d="M30 31Q40 22 56 24T72 38Q74 46 68 51" stroke="#1a1a1a" stroke-width="2" fill="none"/>
<path d="M54 -2Q62 9 76 11T92 22" stroke="#1c1c1c" stroke-width="2.2" fill="none"/>
<path d="M62 16Q66 26 78 29T92 38" stroke="#202020" stroke-width="2" fill="none"/>
<path d="M76 44Q82 50 92 54" stroke="#1c1c1c" stroke-width="2" fill="none"/>
<path d="M28 29.5L32.5 38L40.5 46L50.5 52.5L62.5 57L74 59.5" stroke="#1c1c1c" stroke-width="1.7" fill="none"/>
</g>
<path d="M20.5 26L27.8 39.6L36 48.9L46.5 56.6L58 61.6L69.5 64.4L79 65.8" stroke="#868686" stroke-width="5.5" fill="none" stroke-linecap="round" filter="url(#bl12)"/>
<path d="M57.8 50.3Q66.7 46 77.1 48.8M62 57Q70 52 78 53.5T92 58M70 61.5Q80 58.5 92 62.2" stroke="#9a9a9a" stroke-width="2.2" fill="none" filter="url(#bl12)"/>
<path d="M25.8 36.2L27.8 39.6L36 48.9L46.5 56.6L58 61.6L69.5 64.4L73.5 65.1" stroke="#bdbdbd" stroke-width="1.3" fill="none" stroke-linecap="round" filter="url(#bl07)"/><path d="M31 43.5L36 48.9L46.5 56.6L58 61.6L67 63.9" stroke="#fff" stroke-width="2.0" fill="none" stroke-linecap="round" filter="url(#bl07)"/>
</g></defs>
<g clip-path="url(#cd1)" filter="url(#mrid)"><use href="#anat" transform="translate(17.1 481.3)"/></g>
<g clip-path="url(#cd2)" filter="url(#mrid)"><use href="#anat" transform="translate(112.8 482.6)"/></g>
<g clip-path="url(#cd3)" filter="url(#mrid)"><use href="#anat" transform="translate(200.8 480.3)"/></g>
<path d="M45.7 519.8L48.9 521.4L50.2 525.0L47.6 525.8L45.7 523.2Z" fill="#f5780a" filter="url(#bl04)"/>
<circle cx="53.6" cy="528.4" r="0.7" fill="#f5780a"/>
<path d="M68.4 541.6L72.3 541.6L72.6 544.8L69.0 544.8Z" fill="#f5780a" filter="url(#bl04)"/>
<circle cx="74.6" cy="544" r="0.7" fill="#f5780a"/><circle cx="77.6" cy="544.2" r="0.7" fill="#f5780a"/>
<path d="M33.2 531.0L41.6 527.0" stroke="#f2e81a" stroke-width="1.5" fill="none"/><path d="M45.0 525.3L42.4 528.8L40.7 525.2Z" fill="#f2e81a"/>
<path d="M55.4 550.6L62.5 546.7" stroke="#f2e81a" stroke-width="1.5" fill="none"/><path d="M65.8 544.8L63.5 548.4L61.5 544.9Z" fill="#f2e81a"/>
<text x="29.3" y="539.2" font-size="6.6" text-anchor="middle" fill="#eee">1°</text>
<text x="51.7" y="557.7" font-size="6.6" text-anchor="middle" fill="#eee">5°</text>
<text x="102" y="561" font-size="7" text-anchor="middle" textLength="22.5" lengthAdjust="spacingAndGlyphs" fill="#f4f4f4">3 trials</text>
<rect x="83.1" y="481.3" width="28.7" height="28" fill="#000" stroke="#cfcfcf" stroke-width="0.8"/>
<path d="M107.30 497.21A10.1 10.1 0 0 1 105.78 500.84" stroke="#f0141e" stroke-width="2.9" fill="none"/><path d="M105.78 500.84A10.1 10.1 0 0 1 102.98 503.62" stroke="#1428f0" stroke-width="2.9" fill="none"/><path d="M102.98 503.62A10.1 10.1 0 0 1 99.33 505.11" stroke="#f0141e" stroke-width="2.9" fill="none"/><path d="M99.33 505.11A10.1 10.1 0 0 1 95.39 505.10" stroke="#1428f0" stroke-width="2.9" fill="none"/><path d="M95.39 505.10A10.1 10.1 0 0 1 91.76 503.58" stroke="#f0141e" stroke-width="2.9" fill="none"/><path d="M91.76 503.58A10.1 10.1 0 0 1 88.98 500.78" stroke="#1428f0" stroke-width="2.9" fill="none"/><path d="M88.98 500.78A10.1 10.1 0 0 1 87.49 497.13" stroke="#f0141e" stroke-width="2.9" fill="none"/><path d="M87.49 497.13A10.1 10.1 0 0 1 87.50 493.19" stroke="#1428f0" stroke-width="2.9" fill="none"/><path d="M87.50 493.19A10.1 10.1 0 0 1 89.02 489.56" stroke="#f0141e" stroke-width="2.9" fill="none"/><path d="M89.02 489.56A10.1 10.1 0 0 1 91.82 486.78" stroke="#1428f0" stroke-width="2.9" fill="none"/><path d="M91.82 486.78A10.1 10.1 0 0 1 95.47 485.29" stroke="#f0141e" stroke-width="2.9" fill="none"/><path d="M95.47 485.29A10.1 10.1 0 0 1 99.41 485.30" stroke="#1428f0" stroke-width="2.9" fill="none"/><path d="M99.41 485.30A10.1 10.1 0 0 1 103.04 486.82" stroke="#f0141e" stroke-width="2.9" fill="none"/><path d="M103.04 486.82A10.1 10.1 0 0 1 105.82 489.62" stroke="#1428f0" stroke-width="2.9" fill="none"/><path d="M105.82 489.62A10.1 10.1 0 0 1 107.31 493.27" stroke="#f0141e" stroke-width="2.9" fill="none"/><path d="M107.31 493.27A10.1 10.1 0 0 1 107.30 497.21" stroke="#1428f0" stroke-width="2.9" fill="none"/>
<path d="M101.08 495.57A3.7 3.7 0 0 1 100.40 497.36" stroke="#f0141e" stroke-width="1.7" fill="none"/><path d="M100.40 497.36A3.7 3.7 0 0 1 98.92 498.57" stroke="#1428f0" stroke-width="1.7" fill="none"/><path d="M98.92 498.57A3.7 3.7 0 0 1 97.03 498.88" stroke="#f0141e" stroke-width="1.7" fill="none"/><path d="M97.03 498.88A3.7 3.7 0 0 1 95.24 498.20" stroke="#1428f0" stroke-width="1.7" fill="none"/><path d="M95.24 498.20A3.7 3.7 0 0 1 94.03 496.72" stroke="#f0141e" stroke-width="1.7" fill="none"/><path d="M94.03 496.72A3.7 3.7 0 0 1 93.72 494.83" stroke="#1428f0" stroke-width="1.7" fill="none"/><path d="M93.72 494.83A3.7 3.7 0 0 1 94.40 493.04" stroke="#f0141e" stroke-width="1.7" fill="none"/><path d="M94.40 493.04A3.7 3.7 0 0 1 95.88 491.83" stroke="#1428f0" stroke-width="1.7" fill="none"/><path d="M95.88 491.83A3.7 3.7 0 0 1 97.77 491.52" stroke="#f0141e" stroke-width="1.7" fill="none"/><path d="M97.77 491.52A3.7 3.7 0 0 1 99.56 492.20" stroke="#1428f0" stroke-width="1.7" fill="none"/><path d="M99.56 492.20A3.7 3.7 0 0 1 100.77 493.68" stroke="#f0141e" stroke-width="1.7" fill="none"/><path d="M100.77 493.68A3.7 3.7 0 0 1 101.08 495.57" stroke="#1428f0" stroke-width="1.7" fill="none"/>
<text x="88.2" y="486.9" font-size="5.0" text-anchor="middle" fill="#e8e8e8">5°</text>
<text x="93.3" y="492.6" font-size="4.6" text-anchor="middle" fill="#e8e8e8">1°</text>
<path d="M135.7 517.2L140.2 518.0L144.1 523.2L146.2 526.6L141.5 526.6L136.8 522.4Z" fill="#f5780a" filter="url(#bl04)"/>
<path d="M141.0 514.6L146.2 514.6L146.7 518.8L142.8 519.3Z" fill="#f5780a" filter="url(#bl04)"/>
<path d="M161.0 531.8L166.2 531.8L166.2 534.4L161.0 534.4Z" fill="#f5780a" filter="url(#bl04)"/>
<path d="M160.2 539.6L167.5 538.8L168.8 543.3L163.6 544.0L159.7 543.3Z" fill="#f5780a" filter="url(#bl04)"/>
<path d="M158.9 507.6L151.3 512.2" stroke="#e81818" stroke-width="1.4" fill="none"/><path d="M148.0 514.1L150.3 510.5L152.2 513.8Z" fill="#e81818"/>
<path d="M179.3 523.2L171.5 528.2" stroke="#e81818" stroke-width="1.4" fill="none"/><path d="M168.3 530.2L170.5 526.6L172.5 529.8Z" fill="#e81818"/>
<path d="M124.5 531.0L132.8 527.3" stroke="#f2e81a" stroke-width="1.5" fill="none"/><path d="M136.3 525.8L133.6 529.2L132.0 525.5Z" fill="#f2e81a"/>
<path d="M147.2 550.6L156.3 545.8" stroke="#f2e81a" stroke-width="1.5" fill="none"/><path d="M159.7 544.0L157.3 547.5L155.4 544.0Z" fill="#f2e81a"/>
<text x="182.3" y="561" font-size="7" text-anchor="middle" textLength="22" lengthAdjust="spacingAndGlyphs" fill="#f4f4f4">7 trials</text>
<path d="M222.5 512.5L227.2 513.0L230.7 516.5L233.0 521.2L236.5 524.7L235.3 526.5L230.7 524.7L226.0 521.2L223.7 516.5Z" fill="#f5780a" filter="url(#bl04)"/>
<path d="M224.5 514.5L227.0 515.5L230.0 520.0L228.5 521.0L225.5 518.0Z" fill="#ffc81e" filter="url(#bl04)"/>
<path d="M229.5 511.4L235.3 511.8L235.3 514.9L230.5 514.9Z" fill="#f5780a" filter="url(#bl04)"/>
<path d="M247.0 527.0L254.0 525.8L256.3 529.3L252.8 532.1L248.2 530.5Z" fill="#f5780a" filter="url(#bl04)"/>
<path d="M245.8 535.1L251.6 532.8L256.3 537.5L255.1 541.0L250.5 544.5L247.0 539.8Z" fill="#f5780a" filter="url(#bl04)"/>
<path d="M248.5 536.5L251.5 535.5L253.5 538.5L251.0 541.0L249.0 539.0Z" fill="#ffc81e" filter="url(#bl04)"/>
<path d="M248.9 504.8L241.1 508.9" stroke="#e81818" stroke-width="1.4" fill="none"/><path d="M237.7 510.7L240.2 507.2L241.9 510.6Z" fill="#e81818"/>
<path d="M269.1 521.2L261.6 525.2" stroke="#e81818" stroke-width="1.4" fill="none"/><path d="M258.2 527.0L260.7 523.5L262.4 526.9Z" fill="#e81818"/>
<path d="M212.5 532.1L219.9 527.7" stroke="#f2e81a" stroke-width="1.5" fill="none"/><path d="M223.2 525.8L220.9 529.5L218.9 526.0Z" fill="#f2e81a"/>
<path d="M235.3 549.8L243.7 545.1" stroke="#f2e81a" stroke-width="1.5" fill="none"/><path d="M247.0 543.3L244.6 546.9L242.7 543.4Z" fill="#f2e81a"/>
<rect x="213.2" y="556.1" width="17.5" height="4.1" fill="url(#hot)"/>
<text x="208.8" y="560.5" font-size="5.9" text-anchor="middle" fill="#fff">3</text>
<text x="236" y="560.5" font-size="5.9" text-anchor="middle" fill="#fff">10</text>
<text x="267.7" y="561" font-size="7" text-anchor="middle" textLength="26" lengthAdjust="spacingAndGlyphs" fill="#f4f4f4">28 trials</text>
</g>
<g id="panel_d2">
<path d="M336.0 540.7V534.6M333.2 534.6h5.6" stroke="#888" stroke-width="0.7" fill="none"/>
<rect x="330.1" y="540.7" width="11.8" height="9.5" fill="#808080" stroke="#222" stroke-width="0.7"/>
<path d="M372.5 532.9V527.2M369.7 527.2h5.6" stroke="#888" stroke-width="0.7" fill="none"/>
<rect x="366.6" y="532.9" width="11.7" height="17.3" fill="#ffff00" stroke="#777" stroke-width="0.7"/>
<path d="M390.6 525.5V514.7M387.8 514.7h5.6" stroke="#888" stroke-width="0.7" fill="none"/>
<rect x="384.5" y="525.5" width="12.1" height="24.7" fill="#00ffff" stroke="#777" stroke-width="0.7"/>
<path d="M323.4 482.1V550.2H402M323.4 550.2h-3.2M323.4 533.3h-3.2M323.4 516.4h-3.2M323.4 499.4h-3.2M323.4 482.5h-3.2" stroke="#111" stroke-width="1.0" fill="none"/>
<circle cx="334" cy="521.8" r="0.95" fill="#111"/>
<circle cx="337.7" cy="521.8" r="0.95" fill="#111"/>
<circle cx="332.5" cy="550.2" r="0.95" fill="#111"/>
<circle cx="335" cy="550.2" r="0.95" fill="#111"/>
<circle cx="337.5" cy="550.2" r="0.95" fill="#111"/>
<circle cx="340" cy="550.2" r="0.95" fill="#111"/>
<circle cx="349.5" cy="550.2" r="0.95" fill="#111"/>
<circle cx="352" cy="550.2" r="0.95" fill="#111"/>
<circle cx="354.5" cy="550.2" r="0.95" fill="#111"/>
<circle cx="357" cy="550.2" r="0.95" fill="#111"/>
<circle cx="359" cy="550.2" r="0.95" fill="#111"/>
<circle cx="372.2" cy="521.8" r="0.95" fill="#111"/>
<circle cx="369.4" cy="529.9" r="0.95" fill="#111"/>
<circle cx="372.2" cy="529.9" r="0.95" fill="#111"/>
<circle cx="375" cy="529.9" r="0.95" fill="#111"/>
<circle cx="372.2" cy="551.6" r="0.95" fill="#111"/>
<circle cx="390.4" cy="485.9" r="0.95" fill="#111"/>
<circle cx="390.4" cy="505.2" r="0.95" fill="#111"/>
<circle cx="388.7" cy="529.9" r="0.95" fill="#111"/>
<circle cx="392.1" cy="529.9" r="0.95" fill="#111"/>
<circle cx="389.5" cy="550.9" r="0.95" fill="#111"/>
<circle cx="391.5" cy="550.9" r="0.95" fill="#111"/>
<text x="318.4" y="552.5" font-size="6.05" text-anchor="end" fill="#111">0</text>
<text x="318.4" y="535.575" font-size="6.05" text-anchor="end" fill="#111">0.5</text>
<text x="318.4" y="518.65" font-size="6.05" text-anchor="end" fill="#111">1.0</text>
<text x="318.4" y="501.725" font-size="6.05" text-anchor="end" fill="#111">1.5</text>
<text x="318.4" y="484.8" font-size="6.05" text-anchor="end" fill="#111">2.0</text>
<text x="0" y="0" font-size="6.6" text-anchor="end" transform="translate(338.9 558.2) rotate(-46)" fill="#111">V1–1°</text>
<text x="0" y="0" font-size="6.6" text-anchor="end" transform="translate(356.9 558.2) rotate(-46)" fill="#111">V1–5°</text>
<text x="0" y="0" font-size="6.6" text-anchor="end" transform="translate(375.4 558.2) rotate(-46)" fill="#111">V2–1°</text>
<text x="0" y="0" font-size="6.6" text-anchor="end" transform="translate(393.4 558.2) rotate(-46)" fill="#111">V2–5°</text>
<text x="0" y="0" font-size="7" text-anchor="middle" textLength="34" lengthAdjust="spacingAndGlyphs" transform="translate(303.2 524.7) rotate(-90)" fill="#111">Shift (mm)</text>
</g>
<g id="panel_e">
<text x="0" y="584.0" font-size="9.4" font-weight="bold" textLength="5.9" lengthAdjust="spacingAndGlyphs" fill="#111">e</text>
<text x="11.9" y="583.9" font-size="7.7" textLength="59.5" lengthAdjust="spacingAndGlyphs" fill="#111">Extrastriate areas</text>
<defs>
<clipPath id="ce1"><rect x="21.2" y="587.1" width="117.1" height="98"/></clipPath>
<filter id="bl05" x="-5%" y="-5%" width="110%" height="110%"><feGaussianBlur stdDeviation="0.45"/></filter>
<filter id="bl08" x="-10%" y="-10%" width="120%" height="120%"><feGaussianBlur stdDeviation="0.9"/></filter>
<filter id="bl15" x="-10%" y="-10%" width="120%" height="120%"><feGaussianBlur stdDeviation="1.5"/></filter>
</defs>
<g clip-path="url(#ce1)">
<rect x="21" y="587" width="118" height="99" fill="#ececec"/>
<g filter="url(#bl15)">
<path d="M130.8 585.6L125.2 593.5L116.5 603.1L106.2 615.0L99.8 609.4L103.0 600.7L112.5 595.1L123.6 586.4Z" fill="#3a3a3a"/>
<path d="M115.7 587.2L128.4 587.2L115.7 599.9L107.8 601.5Z" fill="#b0b0b0"/>
<path d="M107.8 612.6L117.3 615.8L123.6 622.1L114.1 625.3L104.6 620.5Z" fill="#c4c4c4"/>
<path d="M131.6 649.6L140.0 649.6L140.0 685.1L131.6 685.1L133.2 668.7Z" fill="#777"/>
<path d="M123.6 599.9L140.0 593.5L140.0 604.6L126.8 609.4Z" fill="#bdbdbd"/>
<path d="M33.9 585.6L40.2 585.6L38.3 603.1L37.7 623.7L40.2 636.4L33.9 636.4Z" fill="#505050"/>
</g>
<path d="M129.2 586.4L123.6 592.7L114.9 601.5L105.4 612.6L101.7 607.8L104.6 601.8L113.3 596.7L123.6 588.0Z" fill="#1c1c1c" filter="url(#bl08)"/>
<path d="M35.8 584.0L34.8 599.9L33.9 612.6L33.6 623.7L34.7 634.8L36.7 632.2L39.4 637.7L46.6 644.9L57.7 652.8L64.1 660.8L72.0 668.7L82.0 675.4L85.5 678.2" stroke="#4a4a4a" stroke-width="6" fill="none" filter="url(#bl05)"/>
<path d="M18.0 584.0L35.8 584.0L34.8 599.9L33.9 612.6L33.6 623.7L34.7 634.8L36.7 632.2L39.4 637.7L46.6 644.9L57.7 652.8L64.1 660.8L72.0 668.7L82.0 675.4L85.5 678.2L95.1 685.1L76.0 692.5L10.0 700.0Z" fill="#000" filter="url(#bl15)"/>
<path d="M18.0 584.0L35.8 584.0L34.8 599.9L33.9 612.6L33.6 623.7L34.7 634.8L36.7 632.2L39.4 637.7L46.6 644.9L57.7 652.8L64.1 660.8L72.0 668.7L82.0 675.4L85.5 678.2L95.1 685.1L76.0 692.5L10.0 700.0Z" fill="#000" filter="url(#bl05)"/>
<g filter="url(#bl05)">
<path d="M40.2 586.9C41.6 586.1 46.7 586.1 47.9 587.5C49.0 588.9 47.9 593.5 46.9 595.1C45.9 596.7 43.0 597.6 41.8 597.0C40.6 596.5 39.9 593.6 39.6 591.9C39.3 590.2 38.9 587.6 40.2 586.9Z" fill="#1a7888"/>
<path d="M47.5 586.4L56.4 586.4L55.5 589.7L48.2 590.7Z" fill="#f08ee0"/>
<path d="M56.1 586.4L73.3 586.4L72.3 591.1L64.1 592.9L56.9 591.3Z" fill="#eef020"/>
<path d="M72.8 586.4L88.7 586.4L89.8 592.3L82.3 594.5L76.0 592.9Z" fill="#2222d2"/>
<path d="M44.2 597.5C46.5 596.3 53.1 595.5 55.3 596.4C57.5 597.3 58.3 601.5 57.4 603.1C56.5 604.6 52.4 605.9 49.8 605.9C47.2 606.0 42.7 604.8 41.8 603.4C40.9 602.0 42.0 598.7 44.2 597.5Z" fill="#e0b222"/>
<path d="M56.1 598.0C57.4 597.0 62.2 597.1 64.4 598.0C66.5 598.8 68.6 601.2 69.1 603.1C69.7 604.9 68.9 608.1 67.5 608.9C66.2 609.8 62.7 609.0 60.9 608.1C59.1 607.3 57.7 605.7 56.9 604.0C56.1 602.3 54.9 599.0 56.1 598.0Z" fill="#6ee022"/>
<path d="M67.2 601.2C68.8 600.4 75.4 600.7 78.3 601.8C81.3 602.9 83.4 606.2 85.0 607.8C86.7 609.5 88.4 610.5 88.2 611.8C88.0 613.1 85.9 615.4 84.1 615.8C82.2 616.2 78.8 615.1 77.1 614.2C75.3 613.3 75.0 611.7 73.6 610.4C72.2 609.0 69.9 607.8 68.8 606.2C67.8 604.7 65.6 601.9 67.2 601.2Z" fill="#f022e2"/>
<path d="M41.8 601.2C43.7 601.3 47.4 604.9 49.8 605.4C52.1 606.0 54.7 603.9 56.1 604.3C57.5 604.7 58.5 606.8 58.0 607.8C57.5 608.9 54.7 610.5 52.9 610.5C51.2 610.5 48.8 607.6 47.5 607.8C46.3 608.1 44.9 610.6 45.3 611.9C45.7 613.3 48.2 615.6 49.8 616.1C51.3 616.6 53.6 614.6 54.8 615.0C56.1 615.3 57.8 617.1 57.2 618.3C56.6 619.5 53.2 621.0 51.3 622.4C49.5 623.9 48.1 625.9 46.3 626.9C44.5 627.8 42.1 628.9 40.6 628.1C39.0 627.4 37.5 625.0 37.1 622.1C36.6 619.3 37.4 613.9 37.7 611.0C38.0 608.1 38.0 606.3 38.6 604.6C39.3 603.0 40.0 601.0 41.8 601.2Z" fill="#c89838"/>
<path d="M56.9 607.8C57.5 606.5 60.2 605.8 61.8 606.2C63.4 606.6 66.2 608.6 66.6 610.2C67.0 611.8 65.4 615.4 64.1 616.1C62.7 616.7 59.7 615.5 58.5 614.2C57.3 612.8 56.4 609.1 56.9 607.8Z" fill="#8a3ab2"/>
<path d="M65.6 607.8C66.2 606.7 69.6 606.3 70.7 607.0C71.8 607.7 72.9 610.9 72.3 611.9C71.7 613.0 68.3 614.2 67.2 613.5C66.1 612.8 65.1 608.9 65.6 607.8Z" fill="#30d266"/>
<path d="M64.1 615.8C64.7 614.7 65.9 613.6 67.2 613.5C68.6 613.4 70.5 615.4 72.0 615.1C73.5 614.9 74.5 612.2 76.1 611.9C77.8 611.7 80.4 612.9 82.0 613.4C83.6 613.9 85.1 613.6 85.5 615.0C85.9 616.3 85.0 620.3 84.4 621.3C83.8 622.3 83.5 620.4 82.0 620.8C80.5 621.3 77.6 623.6 75.2 624.0C72.7 624.4 69.2 623.8 67.2 623.1C65.2 622.4 63.8 621.1 63.3 619.9C62.7 618.7 63.4 616.8 64.1 615.8Z" fill="#7eb030"/>
<circle cx="70.4" cy="613.5" r="1.6" fill="#333"/>
<path d="M39.9 628.5C40.6 627.0 44.3 627.0 45.9 627.5C47.6 628.0 48.7 630.1 49.8 631.6C50.8 633.2 52.6 635.7 52.3 636.9C52.0 638.1 49.9 639.0 48.2 638.8C46.4 638.7 43.2 638.0 41.8 636.3C40.4 634.6 39.2 629.9 39.9 628.5Z" fill="#8a3aa6"/>
<path d="M51.3 625.9C52.4 624.2 55.6 625.4 58.0 626.6C60.4 627.7 63.8 631.3 65.6 632.9C67.5 634.5 68.8 634.8 69.1 636.1C69.5 637.5 69.2 640.1 67.5 641.1C65.9 642.0 61.9 642.7 59.3 642.0C56.7 641.3 53.3 639.6 52.0 636.9C50.7 634.3 50.3 627.7 51.3 625.9Z" fill="#5562c8"/>
<path d="M93.5 622.1C94.7 621.3 98.4 620.7 99.8 620.8C101.2 620.9 103.5 621.7 103.8 622.9C104.1 624.1 102.0 627.9 102.0 630.0C102.0 632.1 103.0 635.9 103.8 638.5C104.6 641.1 107.0 646.8 107.8 649.6C108.6 652.4 108.8 657.4 110.1 659.2C111.4 661.0 114.4 662.2 117.3 663.1C120.2 664.0 129.8 665.2 131.6 666.3C133.4 667.4 132.1 670.3 130.8 671.1C129.5 671.9 122.5 670.8 122.0 672.0C121.5 673.2 124.8 678.4 127.0 680.0C129.2 681.6 137.0 682.7 138.5 684.0C140.0 685.3 144.3 689.2 138.5 690.0C132.7 690.8 101.6 690.9 95.0 690.0C88.4 689.1 90.6 685.1 89.0 683.0C87.4 680.9 84.9 676.1 83.0 674.0C81.1 671.9 76.6 669.1 74.4 667.2C72.2 665.3 68.3 662.0 66.4 660.0C64.5 658.0 62.3 654.1 60.0 652.2C57.7 650.3 51.3 647.6 49.0 645.8C46.7 644.0 43.9 640.1 43.0 639.0C42.1 637.9 41.3 637.3 42.2 637.2C43.1 637.1 47.5 637.5 49.8 638.5C52.1 639.5 56.8 643.6 59.3 644.9C61.8 646.2 67.0 647.0 68.8 648.1C70.6 649.2 71.7 652.9 72.8 652.8C73.9 652.7 75.8 648.9 77.0 647.0C78.2 645.1 80.3 640.6 81.6 638.5C82.9 636.4 85.8 633.1 87.1 631.6C88.4 630.1 90.2 628.2 91.1 626.9C92.0 625.6 92.3 622.9 93.5 622.1Z" fill="#87591a"/>
<path d="M113.3 626.2C113.4 624.5 116.2 623.2 118.2 623.1C120.3 622.9 123.8 623.9 125.5 625.3C127.3 626.7 128.0 629.4 128.7 631.6C129.5 633.8 129.5 635.8 130.0 638.5C130.5 641.3 130.7 645.1 131.9 648.1C133.1 651.0 136.4 653.0 137.3 656.0C138.2 659.0 138.1 663.7 137.3 665.8C136.5 668.0 133.6 669.9 132.5 669.0C131.5 668.2 131.6 663.4 130.9 660.8C130.3 658.1 129.9 654.9 128.4 653.1C126.9 651.3 124.2 650.7 122.1 650.0C119.9 649.3 117.1 650.1 115.7 649.0C114.3 648.0 113.1 645.1 113.8 643.6C114.5 642.1 119.5 641.8 120.1 640.1C120.8 638.5 118.7 636.1 117.6 633.8C116.5 631.5 113.2 628.0 113.3 626.2Z" fill="#9040a2"/>
<path d="M99.8 599.9L104.6 595.8L106.5 598.3L101.7 605.0Z" fill="#f07020"/>
<path d="M126.8 610.2L134.8 603.7L138.3 604.6L138.3 609.4L130.0 613.5Z" fill="#52b284"/>
<path d="M123.3 611.9L126.8 610.7L127.1 613.5Z" fill="#e030c0"/>
<path d="M128.4 613.5L138.3 610.0L138.3 627.2L130.0 627.2L125.9 620.5Z" fill="#121282"/>
<path d="M129.2 627.2L138.3 626.9L138.3 631.6L130.0 631.0Z" fill="#1e6a30"/>
<path d="M128.4 632.3L134.1 632.3L134.1 633.9L128.4 633.9Z" fill="#b4b0e8"/>
<path d="M85.2 586.4L91.1 586.4L90.3 588.4L85.8 588.1Z" fill="#701050"/>
</g>
<path d="M70.0 646.5L73.4 652.8L76.0 660.3L82.0 665.8L85.5 665.5L99.8 673.5L115.7 678.2L125.2 680.6" stroke="#f4f4f4" stroke-width="2.0" fill="none" stroke-linecap="round" stroke-linejoin="round" filter="url(#bl05)"/>
<path d="M82.2 657.7L91.9 662.9L103.8 667.3L118.7 669.6L129.0 669.6" stroke="#6a6a6a" stroke-width="1.6" fill="none" stroke-linecap="round" stroke-linejoin="round" filter="url(#bl05)"/>
<path d="M86 659.9L90 662M97 665L101 666.5M108 668.3L113 669.2M121 669.7L126 669.7" stroke="#e8e8e8" stroke-width="1.1" fill="none" filter="url(#bl05)"/>
<circle cx="47.4" cy="631.6" r="2.7" fill="none" stroke="#ffe61e" stroke-width="1.15"/>
<circle cx="54.2" cy="635.1" r="2.7" fill="none" stroke="#ffe61e" stroke-width="1.15"/>
<circle cx="61.4" cy="638.1" r="2.7" fill="none" stroke="#ffe61e" stroke-width="1.15"/>
<text x="74" y="634.8" font-size="6.8" text-anchor="middle" fill="#5058c8">V3</text>
<text x="82.6" y="607.5" font-size="6.6" text-anchor="middle" fill="#7a3cc0">TEO</text>
</g>
<path d="M20.9 613.6L31.6 616.4" stroke="#fff" stroke-width="1.1" fill="none"/><path d="M34.9 617.2L31.2 618.0L32.0 614.7Z" fill="#fff"/>
<path d="M20.9 635.2L32.6 633.8" stroke="#fff" stroke-width="1.1" fill="none"/><path d="M36.0 633.4L32.8 635.5L32.4 632.1Z" fill="#fff"/>
<path d="M45.3 669.5L54.6 662.2" stroke="#fff" stroke-width="1.2" fill="none"/><path d="M57.4 660.0L55.7 663.6L53.5 660.8Z" fill="#fff"/>
<text x="13.3" y="617.9" font-size="6.8" text-anchor="middle" fill="#c89860">V4</text>
<text x="13.0" y="638.7" font-size="6.8" text-anchor="middle" fill="#9a3eb0">V2</text>
<text x="38.8" y="675.2" font-size="6.8" text-anchor="middle" fill="#8a5a1e">V1</text>
</g>
<g id="panel_e2">
<defs>
<filter id="bl15e" x="-10%" y="-10%" width="120%" height="120%"><feGaussianBlur stdDeviation="1.3"/></filter>
<filter id="bl2e" x="-10%" y="-10%" width="120%" height="120%"><feGaussianBlur stdDeviation="2.4"/></filter>
<filter id="bl07e" x="-10%" y="-10%" width="120%" height="120%"><feGaussianBlur stdDeviation="0.7"/></filter>
<filter id="mri" x="0" y="0" width="100%" height="100%" color-interpolation-filters="sRGB">
<feTurbulence type="fractalNoise" baseFrequency="0.3" numOctaves="2" seed="4" result="n"/>
<feColorMatrix in="n" type="matrix" values="0.4 0.4 0.4 0 -0.1  0.4 0.4 0.4 0 -0.1  0.4 0.4 0.4 0 -0.1  0 0 0 0 1" result="g"/>
<feComposite in="SourceGraphic" in2="g" operator="arithmetic" k1="0.9" k2="0.58" k3="0" k4="0" result="m"/>
<feComposite in="m" in2="SourceGraphic" operator="in"/>
</filter>
<clipPath id="ce2"><rect x="141.3" y="587.1" width="130.2" height="98"/></clipPath>
<clipPath id="ce3"><rect x="273.2" y="587.1" width="130" height="98"/></clipPath>
</defs>
<defs><g id="anat2">
<rect x="-2" y="-2" width="136" height="104" fill="#626262"/>
<g filter="url(#bl2e)">
<path d="M0.0 0.0L70.0 0.0L64.0 30.0L40.0 44.0L10.0 48.0L0.0 48.0Z" fill="#3a3a3a"/>
<path d="M68.0 -2.0L132.0 -2.0L132.0 34.0L100.0 38.0L72.0 42.0L62.0 22.0Z" fill="#858585"/>
<path d="M50.0 36.0L86.0 30.0L104.0 34.0L118.0 46.0L120.0 84.0L100.0 74.0L84.0 64.0L60.0 60.0L44.0 50.0Z" fill="#a0a0a0"/>
<path d="M12.0 46.0L48.0 38.0L66.0 50.0L66.0 64.0L40.0 58.0L22.0 57.0Z" fill="#9a9a9a"/>
<path d="M46.0 44.0L62.0 40.0L72.0 52.0L66.0 60.0L50.0 56.0Z" fill="#c0c0c0"/>
</g>
<g filter="url(#bl15e)">
<path d="M40.0 56.5L52.0 54.0L64.4 61.0L80.8 69.0L97.2 79.0L113.5 88.5L124.0 95.0L124.0 101.0L62.0 101.0L64.4 88.0L55.7 78.5L47.5 67.0L39.3 58.5Z" fill="#f6f6f6"/>
</g>
<g filter="url(#bl15e)">
<path d="M16.4 4.3L31.2 2.6L47.5 7.5L64.4 14.1" stroke="#4e4e4e" stroke-width="4" fill="none" stroke-linecap="round" stroke-linejoin="round"/>
<path d="M18.1 14.1L31.2 10.8L47.5 14.1L64.4 22.3L76.0 34.0" stroke="#222" stroke-width="4.2" fill="none" stroke-linecap="round" stroke-linejoin="round"/>
<path d="M16.4 23.3L26.2 18.0L39.3 18.0L52.4 22.8L64.4 29.5L74.0 40.0" stroke="#6e6e6e" stroke-width="4.6" fill="none" stroke-linecap="round" stroke-linejoin="round"/>
<path d="M23.0 27.2L36.1 25.5L43.0 31.0L46.0 40.0L38.0 37.0L31.2 35.4Z" fill="#2c2c2c"/>
<path d="M74.2 -1.0L67.7 7.5L62.0 12.0" stroke="#262626" stroke-width="4" fill="none" stroke-linecap="round" stroke-linejoin="round"/>
<path d="M90.0 -1.0L77.5 19.0L67.7 30.5" stroke="#2a2a2a" stroke-width="5" fill="none" stroke-linecap="round" stroke-linejoin="round"/>
<path d="M98.5 -1.0L87.8 19.0L78.0 32.1L68.5 43.6" stroke="#7c7c7c" stroke-width="5" fill="none" stroke-linecap="round" stroke-linejoin="round"/>
<path d="M108.0 -1.0L98.0 19.0L88.0 34.0L80.0 46.0" stroke="#3a3a3a" stroke-width="3.6" fill="none" stroke-linecap="round" stroke-linejoin="round"/>
<path d="M105.3 7.5L121.7 7.5L130.0 13.0L130.0 19.0L113.5 18.5L107.0 14.1Z" fill="#2a2a2a"/>
<path d="M97.2 25.5L103.7 30.5L108.6 37.0L118.4 41.9" stroke="#1e1e1e" stroke-width="2.6" fill="none" stroke-linecap="round" stroke-linejoin="round"/>
<path d="M126.0 -1.0L128.0 26.0" stroke="#2a2a2a" stroke-width="4" fill="none" stroke-linecap="round" stroke-linejoin="round"/>
<path d="M113.5 64.1L120.1 64.1L120.1 80.5L113.5 78.0Z" fill="#969696"/>
<path d="M61.0 72.5L64.4 73.9L77.5 82.1L90.6 88.6L107.0 95.2L116.0 99.0" stroke="#0c0c0c" stroke-width="4.2" fill="none" stroke-linecap="round" stroke-linejoin="round"/>
<path d="M64.4 84.0L77.5 88.9L97.2 95.5L110.0 99.0" stroke="#f6f6f6" stroke-width="3.6" fill="none" stroke-linecap="round" stroke-linejoin="round"/>
<path d="M62.0 97.6L100.0 99.0" stroke="#222" stroke-width="2" fill="none" stroke-linecap="round" stroke-linejoin="round"/>
</g>
<g filter="url(#bl07e)">
<path d="M120.1 30.5L125.0 25.5L130.0 26.0L130.0 70.0L121.0 70.0L119.0 56.0L118.4 47.7L116.8 41.9L121.7 38.6Z" fill="#fafafa"/>
<path d="M121.7 70.0L128.0 70.0L127.5 93.6L121.7 93.6Z" fill="#f6f6f6"/>
<path d="M118.4 80.5L121.7 80.5L121.7 90.3L118.4 90.3Z" fill="#2a2a2a"/>
<rect x="123.4" y="49.3" width="5.5" height="3.3" fill="#151515"/>
<rect x="125" y="54.3" width="4" height="3.2" fill="#151515"/>
<rect x="125.8" y="62.4" width="3" height="3.3" fill="#151515"/>
<rect x="123" y="33" width="3" height="3" fill="#151515"/>
<rect x="126" y="40" width="3" height="2.5" fill="#151515"/>
</g>
<path d="M-3.0 -3.0L13.1 -3.0L13.1 0.0L10.6 14.1L10.0 30.5L10.6 38.6L13.1 47.7L23.0 57.5L31.2 67.4L41.0 77.2L49.2 83.7L57.4 90.3L64.4 95.2L70.0 101.0L-3.0 101.0Z" fill="#000" filter="url(#bl2e)"/>
<path d="M-4.5 -1.8L11.6 -1.8L11.6 1.2L9.1 15.3L8.5 31.7L9.1 39.8L11.6 48.9L21.5 58.7L29.7 68.6L39.5 78.4L47.7 84.9L55.9 91.5L62.9 96.4L68.5 102.2L-4.5 102.2Z" fill="#000" filter="url(#bl07e)"/>
</g></defs>
<g clip-path="url(#ce2)" filter="url(#mri)"><rect x="141" y="587" width="130" height="99" fill="#000"/><use href="#anat2" transform="translate(141.6 587.3)"/></g>
<g clip-path="url(#ce3)" filter="url(#mri)"><rect x="273" y="587" width="131" height="99" fill="#000"/><use href="#anat2" transform="translate(272.4 586.6)"/></g>
<rect x="175.4" y="626.3" width="2.0" height="2.0" fill="#ee1818"/><rect x="177.4" y="628.3" width="3.0" height="2.0" fill="#ee1818"/><rect x="179.4" y="630.3" width="2.5" height="2.5" fill="#ee1818"/><rect x="171.1" y="644.5" width="13.1" height="2.0" fill="#ee1818"/><rect x="171.1" y="646.5" width="4.0" height="2.0" fill="#ee1818"/><rect x="181.0" y="646.5" width="3.2" height="2.0" fill="#ee1818"/><rect x="171.1" y="653.3" width="2.5" height="2.2" fill="#ee1818"/><rect x="173.6" y="654.6" width="5.0" height="3.3" fill="#ee1818"/><rect x="177.7" y="657.1" width="4.0" height="4.0" fill="#ee1818"/><rect x="179.3" y="660.4" width="5.2" height="3.8" fill="#ee1818"/><rect x="207.0" y="677.9" width="2.0" height="2.0" fill="#ee1818"/><rect x="211.5" y="677.9" width="2.0" height="2.0" fill="#ee1818"/><rect x="203.7" y="681.5" width="2.0" height="2.0" fill="#ee1818"/>
<text x="258" y="594.9" font-size="7" text-anchor="middle" textLength="22" lengthAdjust="spacingAndGlyphs" fill="#f4f4f4">7 trials</text>
<text x="169.5" y="670.6" font-size="6.6" text-anchor="middle" fill="#eee">1°</text>
<text x="195" y="681.6" font-size="6.6" text-anchor="middle" fill="#eee">5°</text>
<rect x="311.7" y="601.5" width="2.0" height="2.0" fill="#ee1818"/><rect x="318.6" y="608.2" width="2.0" height="2.0" fill="#ee1818"/><rect x="304.1" y="618.7" width="1.8" height="2.5" fill="#ee1818"/><rect x="304.6" y="621.2" width="1.8" height="2.5" fill="#ee1818"/><rect x="305.4" y="626.2" width="2.0" height="2.0" fill="#ee1818"/><rect x="308.7" y="629.1" width="8.0" height="2.0" fill="#ee1818"/><rect x="310.5" y="631.0" width="6.2" height="1.8" fill="#ee1818"/><rect x="298.5" y="630.8" width="1.8" height="1.8" fill="#ee1818"/><rect x="305.4" y="635.4" width="1.8" height="1.8" fill="#ee1818"/><rect x="313.8" y="635.8" width="1.8" height="1.8" fill="#ee1818"/><rect x="299.8" y="642.6" width="4.0" height="2.0" fill="#ee1818"/><rect x="297.8" y="644.2" width="15.0" height="2.8" fill="#ee1818"/><rect x="301.8" y="646.6" width="16.8" height="2.4" fill="#ee1818"/><rect x="302.8" y="649.0" width="5.0" height="2.0" fill="#ee1818"/><rect x="294.4" y="648.6" width="1.8" height="1.8" fill="#ee1818"/><rect x="301.8" y="653.5" width="2.4" height="2.0" fill="#ee1818"/><rect x="307.7" y="651.5" width="2.0" height="2.0" fill="#ee1818"/><rect x="312.7" y="653.5" width="1.6" height="2.0" fill="#ee1818"/><rect x="304.7" y="655.5" width="7.0" height="2.6" fill="#ee1818"/><rect x="305.7" y="658.1" width="7.0" height="2.8" fill="#ee1818"/><rect x="306.7" y="660.8" width="10.0" height="2.6" fill="#ee1818"/><rect x="327.6" y="682.3" width="11.0" height="1.6" fill="#ee1818"/><rect x="334.5" y="677.9" width="15.5" height="2.4" fill="#ee1818"/><rect x="341.5" y="680.0" width="7.0" height="2.3" fill="#ee1818"/>
<text x="303.9" y="603.3" font-size="6.8" text-anchor="middle" textLength="12.6" lengthAdjust="spacingAndGlyphs" fill="#e61e1e">TEO</text>
<path d="M323.6 588.6L317.4 597.5" stroke="#e81818" stroke-width="1.3" fill="none"/><path d="M315.3 600.5L315.9 596.5L318.8 598.6Z" fill="#e81818"/>
<path d="M329.6 594.9L323.7 603.4" stroke="#e81818" stroke-width="1.3" fill="none"/><path d="M321.6 606.4L322.2 602.4L325.1 604.5Z" fill="#e81818"/>
<text x="328.2" y="614.3" font-size="6.9" text-anchor="middle" fill="#2a3cf0">V4</text>
<path d="M322.0 614.8L312.5 618.5" stroke="#2a3cf0" stroke-width="1.2" fill="none"/><path d="M309.3 619.7L311.9 616.9L313.1 620.1Z" fill="#2a3cf0"/>
<text x="334.5" y="624.8" font-size="6.9" text-anchor="middle" fill="#7ac143">V3</text>
<path d="M329.2 623.1L318.8 627.7" stroke="#7ac143" stroke-width="1.1" fill="none"/><path d="M315.7 629.1L318.2 626.3L319.5 629.2Z" fill="#7ac143"/>
<text x="290.8" y="628.2" font-size="6.9" text-anchor="middle" fill="#f0e020">V2</text>
<circle cx="299.4" cy="631.7" r="3.2" fill="none" stroke="#f4e61e" stroke-width="1.1"/>
<circle cx="306.3" cy="636.2" r="3.2" fill="none" stroke="#f4e61e" stroke-width="1.1"/>
<circle cx="314.7" cy="636.6" r="3.2" fill="none" stroke="#f4e61e" stroke-width="1.1"/>
<text x="289.9" y="649.4" font-size="6.9" text-anchor="middle" fill="#f0f0f0">V1</text>
<text x="299.8" y="668.2" font-size="6.6" text-anchor="middle" fill="#eee">1°</text>
<text x="324" y="682.3" font-size="6.6" text-anchor="middle" fill="#eee">5°</text>
<text x="387.4" y="594.6" font-size="7" text-anchor="middle" textLength="26.5" lengthAdjust="spacingAndGlyphs" fill="#f4f4f4">28 trials</text>
</g>
</svg>
</body></html>
